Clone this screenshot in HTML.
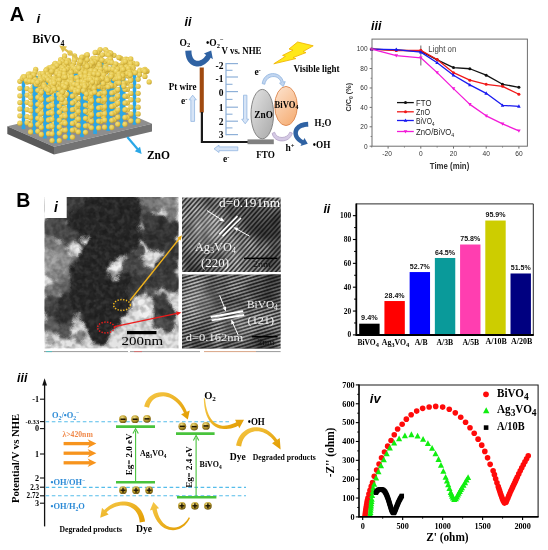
<!DOCTYPE html>
<html lang="en"><head><meta charset="utf-8"><title>Figure</title>
<style>html,body{margin:0;padding:0;background:#fff}svg{display:block}text{white-space:pre}</style></head>
<body>
<svg width="548" height="550" viewBox="0 0 548 550">
<defs>
<radialGradient id="ball" cx="0.38" cy="0.35" r="0.75"><stop offset="0" stop-color="#f3df7e"/><stop offset="0.55" stop-color="#e6c84e"/><stop offset="1" stop-color="#b8962a"/></radialGradient>
<symbol id="b" overflow="visible"><circle r="2.65" fill="url(#ball)"/></symbol>
<linearGradient id="gz" x1="0" y1="0" x2="1" y2="1"><stop offset="0" stop-color="#e4e4e4"/><stop offset="1" stop-color="#a8a8a8"/></linearGradient>
<linearGradient id="gb" x1="0" y1="0" x2="0.6" y2="1"><stop offset="0" stop-color="#fde4d0"/><stop offset="1" stop-color="#f6b27c"/></linearGradient>
<clipPath id="ctem"><rect x="44.5" y="197" width="134.1" height="151.4"/></clipPath>
<filter id="temd" x="-10%" y="-10%" width="120%" height="120%"><feGaussianBlur stdDeviation="1.6" result="b"/><feTurbulence type="fractalNoise" baseFrequency="0.09" numOctaves="2" seed="9" result="t"/><feDisplacementMap in="b" in2="t" scale="10" xChannelSelector="R" yChannelSelector="G"/></filter>
<filter id="grain" x="0" y="0" width="100%" height="100%"><feTurbulence type="fractalNoise" baseFrequency="0.17" numOctaves="2" seed="4" result="n"/><feColorMatrix in="n" type="matrix" values="0 0 0 0 0  0 0 0 0 0  0 0 0 0 0  2.2 2.2 0 0 -1.85" result="a"/><feFlood flood-color="#000"/><feComposite operator="in" in2="a"/></filter>
<filter id="grainw" x="0" y="0" width="100%" height="100%"><feTurbulence type="fractalNoise" baseFrequency="0.2" numOctaves="2" seed="17" result="n"/><feColorMatrix in="n" type="matrix" values="0 0 0 0 0  0 0 0 0 0  0 0 0 0 0  2.4 2.4 0 0 -2.1" result="a"/><feFlood flood-color="#fff"/><feComposite operator="in" in2="a"/></filter>
<filter id="bl5" x="-50%" y="-50%" width="200%" height="200%"><feGaussianBlur stdDeviation="5"/></filter>
<pattern id="h1" width="3.4" height="8" patternUnits="userSpaceOnUse" patternTransform="rotate(42)"><rect width="3.4" height="8" fill="#383838"/><rect width="1.7" height="8" fill="#b2b2b2"/></pattern>
<filter id="h1n" x="0" y="0" width="100%" height="100%"><feTurbulence type="fractalNoise" baseFrequency="0.045" numOctaves="2" seed="11" result="n"/><feColorMatrix in="n" type="matrix" values="0 0 0 0 0  0 0 0 0 0  0 0 0 0 0  1.6 1.6 0 0 -1.25" result="a"/><feFlood flood-color="#1c1c1c"/><feComposite operator="in" in2="a"/></filter>
<clipPath id="h1c"><rect x="182" y="197.6" width="98.6" height="74.4"/></clipPath>
<pattern id="h2" width="3.3" height="8" patternUnits="userSpaceOnUse" patternTransform="rotate(73)"><rect width="3.3" height="8" fill="#363636"/><rect width="1.65" height="8" fill="#b0b0b0"/></pattern>
<filter id="h2n" x="0" y="0" width="100%" height="100%"><feTurbulence type="fractalNoise" baseFrequency="0.045" numOctaves="2" seed="23" result="n"/><feColorMatrix in="n" type="matrix" values="0 0 0 0 0  0 0 0 0 0  0 0 0 0 0  1.6 1.6 0 0 -1.25" result="a"/><feFlood flood-color="#1c1c1c"/><feComposite operator="in" in2="a"/></filter>
<clipPath id="h2c"><rect x="182" y="274.6" width="98.6" height="73.8"/></clipPath>
<radialGradient id="car" cx="0.4" cy="0.32" r="0.75"><stop offset="0" stop-color="#f0e08a"/><stop offset="0.5" stop-color="#c0a030"/><stop offset="1" stop-color="#5e4a0a"/></radialGradient>
<symbol id="em" overflow="visible"><circle r="3.9" fill="url(#car)"/><rect x="-2.5" y="-0.7" width="5" height="1.5" fill="#1c1402"/></symbol>
<symbol id="hp" overflow="visible"><circle r="3.9" fill="url(#car)"/><rect x="-2.5" y="-0.7" width="5" height="1.4" fill="#1c1402"/><rect x="-0.7" y="-2.5" width="1.4" height="5" fill="#1c1402"/></symbol>
<linearGradient id="gold" x1="0" y1="0" x2="1" y2="1"><stop offset="0" stop-color="#f6c94a"/><stop offset="1" stop-color="#e29c00"/></linearGradient>
<clipPath id="cny"><rect x="359" y="384.9" width="179.1" height="132"/></clipPath>
</defs>
<rect width="548" height="550" fill="#fff"/>
<text x="9.7" y="21.2" font-family='"Liberation Sans", Arial, sans-serif' font-size="20.2" font-weight="bold">A</text>
<text x="36.4" y="22.8" font-family='"Liberation Sans", Arial, sans-serif' font-size="13.4" font-weight="bold" font-style="italic">i</text>
<text x="32.5" y="42.6" font-family='"Liberation Serif", "Times New Roman", serif' font-size="11.5" font-weight="bold">BiVO<tspan baseline-shift="-3.22" font-size="7.82">4</tspan></text>
<polygon points="7.3,126.3 54,146.8 152,123.8 105.3,103.3" fill="#8e8e8e" />
<polygon points="7.3,126.3 54,146.8 54,154.4 7.3,133.9" fill="#5a5a5a" />
<polygon points="54,146.8 152,123.8 152,131.4 54,154.4" fill="#737373" />
<rect x="100.47" y="60.62" width="3.6" height="50" fill="#2aa7e6"/><use href="#b" x="98.67" y="106.87"/><use href="#b" x="105.87" y="107.23"/><use href="#b" x="98.67" y="99.87"/><use href="#b" x="105.87" y="99.92"/><use href="#b" x="98.67" y="93.1"/><use href="#b" x="105.87" y="92.69"/><use href="#b" x="98.67" y="86.12"/><use href="#b" x="105.87" y="86.24"/><use href="#b" x="98.67" y="79.5"/><use href="#b" x="105.87" y="78.8"/><use href="#b" x="98.67" y="72.11"/><use href="#b" x="105.87" y="71.9"/><use href="#b" x="98.67" y="65.72"/><use href="#b" x="105.87" y="65.6"/>
<rect x="87.34" y="63.7" width="3.6" height="50" fill="#2aa7e6"/><use href="#b" x="85.54" y="112.01"/><use href="#b" x="92.74" y="112"/><use href="#b" x="85.54" y="104.79"/><use href="#b" x="92.74" y="104.75"/><use href="#b" x="85.54" y="97.39"/><use href="#b" x="92.74" y="97.25"/><use href="#b" x="85.54" y="90.86"/><use href="#b" x="92.74" y="90.39"/><use href="#b" x="85.54" y="83.62"/><use href="#b" x="92.74" y="83.67"/><use href="#b" x="85.54" y="76.56"/><use href="#b" x="92.74" y="77"/><use href="#b" x="85.54" y="70.07"/><use href="#b" x="92.74" y="70.47"/>
<rect x="111.21" y="65.33" width="3.6" height="50" fill="#2aa7e6"/><use href="#b" x="109.41" y="111.4"/><use href="#b" x="116.61" y="111.26"/><use href="#b" x="109.41" y="104.52"/><use href="#b" x="116.61" y="104.31"/><use href="#b" x="109.41" y="97.23"/><use href="#b" x="116.61" y="97.95"/><use href="#b" x="109.41" y="91.05"/><use href="#b" x="116.61" y="90.9"/><use href="#b" x="109.41" y="83.86"/><use href="#b" x="116.61" y="83.47"/><use href="#b" x="109.41" y="76.49"/><use href="#b" x="116.61" y="76.55"/><use href="#b" x="109.41" y="69.43"/><use href="#b" x="116.61" y="70.12"/>
<rect x="74.2" y="66.78" width="3.6" height="50" fill="#2aa7e6"/><use href="#b" x="72.41" y="113.53"/><use href="#b" x="79.6" y="113.07"/><use href="#b" x="72.41" y="106.74"/><use href="#b" x="79.6" y="106.63"/><use href="#b" x="72.41" y="98.88"/><use href="#b" x="79.6" y="99.09"/><use href="#b" x="72.41" y="92.89"/><use href="#b" x="79.6" y="92.45"/><use href="#b" x="72.41" y="86.06"/><use href="#b" x="79.6" y="85.48"/><use href="#b" x="72.41" y="78.25"/><use href="#b" x="79.6" y="78.81"/><use href="#b" x="72.41" y="72.06"/><use href="#b" x="79.6" y="71.55"/>
<rect x="98.08" y="68.41" width="3.6" height="50" fill="#2aa7e6"/><use href="#b" x="96.28" y="115.9"/><use href="#b" x="103.48" y="116.53"/><use href="#b" x="96.28" y="109.42"/><use href="#b" x="103.48" y="108.78"/><use href="#b" x="96.28" y="102.01"/><use href="#b" x="103.48" y="101.87"/><use href="#b" x="96.28" y="94.93"/><use href="#b" x="103.48" y="95.66"/><use href="#b" x="96.28" y="88.14"/><use href="#b" x="103.48" y="88.53"/><use href="#b" x="96.28" y="81.51"/><use href="#b" x="103.48" y="81.26"/><use href="#b" x="96.28" y="74.9"/><use href="#b" x="103.48" y="74.3"/>
<rect x="61.07" y="69.86" width="3.6" height="50" fill="#2aa7e6"/><use href="#b" x="59.27" y="114.91"/><use href="#b" x="66.47" y="115.21"/><use href="#b" x="59.27" y="108.1"/><use href="#b" x="66.47" y="108.16"/><use href="#b" x="59.27" y="101.96"/><use href="#b" x="66.47" y="101.79"/><use href="#b" x="59.27" y="94.39"/><use href="#b" x="66.47" y="94.97"/><use href="#b" x="59.27" y="87.4"/><use href="#b" x="66.47" y="87.58"/><use href="#b" x="59.27" y="81.14"/><use href="#b" x="66.47" y="80.93"/><use href="#b" x="59.27" y="73.49"/><use href="#b" x="66.47" y="74.38"/>
<rect x="121.95" y="70.05" width="3.6" height="50" fill="#2aa7e6"/><use href="#b" x="120.15" y="116.95"/><use href="#b" x="127.35" y="117.47"/><use href="#b" x="120.15" y="110.12"/><use href="#b" x="127.35" y="110.09"/><use href="#b" x="120.15" y="102.97"/><use href="#b" x="127.35" y="102.99"/><use href="#b" x="120.15" y="96.58"/><use href="#b" x="127.35" y="96.24"/><use href="#b" x="120.15" y="89.7"/><use href="#b" x="127.35" y="89.47"/><use href="#b" x="120.15" y="82.65"/><use href="#b" x="127.35" y="83.15"/><use href="#b" x="120.15" y="75.78"/><use href="#b" x="127.35" y="75.87"/>
<rect x="84.95" y="71.5" width="3.6" height="50" fill="#2aa7e6"/><use href="#b" x="83.15" y="115.71"/><use href="#b" x="90.35" y="115.69"/><use href="#b" x="83.15" y="109.54"/><use href="#b" x="90.35" y="109.45"/><use href="#b" x="83.15" y="101.98"/><use href="#b" x="90.35" y="101.92"/><use href="#b" x="83.15" y="95.57"/><use href="#b" x="90.35" y="95.77"/><use href="#b" x="83.15" y="88.13"/><use href="#b" x="90.35" y="88.88"/><use href="#b" x="83.15" y="81.91"/><use href="#b" x="90.35" y="81.63"/><use href="#b" x="83.15" y="74.55"/><use href="#b" x="90.35" y="74.23"/>
<rect x="47.94" y="72.95" width="3.6" height="50" fill="#2aa7e6"/><use href="#b" x="46.14" y="121.25"/><use href="#b" x="53.34" y="120.53"/><use href="#b" x="46.14" y="114.1"/><use href="#b" x="53.34" y="113.65"/><use href="#b" x="46.14" y="107.31"/><use href="#b" x="53.34" y="107.09"/><use href="#b" x="46.14" y="99.88"/><use href="#b" x="53.34" y="99.77"/><use href="#b" x="46.14" y="93.41"/><use href="#b" x="53.34" y="92.76"/><use href="#b" x="46.14" y="86.02"/><use href="#b" x="53.34" y="86.35"/><use href="#b" x="46.14" y="79.74"/><use href="#b" x="53.34" y="79.51"/>
<rect x="108.82" y="73.13" width="3.6" height="50" fill="#2aa7e6"/><use href="#b" x="107.02" y="120.43"/><use href="#b" x="114.22" y="119.71"/><use href="#b" x="107.02" y="112.63"/><use href="#b" x="114.22" y="112.88"/><use href="#b" x="107.02" y="106.15"/><use href="#b" x="114.22" y="105.77"/><use href="#b" x="107.02" y="98.99"/><use href="#b" x="114.22" y="99.18"/><use href="#b" x="107.02" y="92.48"/><use href="#b" x="114.22" y="92.04"/><use href="#b" x="107.02" y="85.37"/><use href="#b" x="114.22" y="85.9"/><use href="#b" x="107.02" y="79.09"/><use href="#b" x="114.22" y="78.77"/>
<rect x="71.81" y="74.58" width="3.6" height="50" fill="#2aa7e6"/><use href="#b" x="70.01" y="119.9"/><use href="#b" x="77.21" y="119.45"/><use href="#b" x="70.01" y="112.45"/><use href="#b" x="77.21" y="112.43"/><use href="#b" x="70.01" y="106.42"/><use href="#b" x="77.21" y="106.22"/><use href="#b" x="70.01" y="99.58"/><use href="#b" x="77.21" y="98.64"/><use href="#b" x="70.01" y="92.35"/><use href="#b" x="77.21" y="92.2"/><use href="#b" x="70.01" y="85.54"/><use href="#b" x="77.21" y="85.13"/><use href="#b" x="70.01" y="78.91"/><use href="#b" x="77.21" y="77.99"/>
<rect x="132.69" y="74.76" width="3.6" height="50" fill="#2aa7e6"/><use href="#b" x="130.89" y="120.82"/><use href="#b" x="138.09" y="120.98"/><use href="#b" x="130.89" y="113.92"/><use href="#b" x="138.09" y="113.88"/><use href="#b" x="130.89" y="107.07"/><use href="#b" x="138.09" y="107.19"/><use href="#b" x="130.89" y="99.73"/><use href="#b" x="138.09" y="100.06"/><use href="#b" x="130.89" y="93.38"/><use href="#b" x="138.09" y="93.35"/><use href="#b" x="130.89" y="86"/><use href="#b" x="138.09" y="86.37"/><use href="#b" x="130.89" y="79.54"/><use href="#b" x="138.09" y="79.25"/>
<rect x="34.81" y="76.03" width="3.6" height="50" fill="#2aa7e6"/><use href="#b" x="33.01" y="121.41"/><use href="#b" x="40.21" y="121.61"/><use href="#b" x="33.01" y="114.74"/><use href="#b" x="40.21" y="114.21"/><use href="#b" x="33.01" y="107.87"/><use href="#b" x="40.21" y="108.22"/><use href="#b" x="33.01" y="101.21"/><use href="#b" x="40.21" y="101.06"/><use href="#b" x="33.01" y="93.82"/><use href="#b" x="40.21" y="94.16"/><use href="#b" x="33.01" y="87.11"/><use href="#b" x="40.21" y="86.97"/><use href="#b" x="33.01" y="80.47"/><use href="#b" x="40.21" y="79.71"/>
<rect x="95.69" y="76.21" width="3.6" height="50" fill="#2aa7e6"/><use href="#b" x="93.89" y="120.74"/><use href="#b" x="101.09" y="121.31"/><use href="#b" x="93.89" y="114.29"/><use href="#b" x="101.09" y="114.04"/><use href="#b" x="93.89" y="107.61"/><use href="#b" x="101.09" y="107.41"/><use href="#b" x="93.89" y="100.63"/><use href="#b" x="101.09" y="100.93"/><use href="#b" x="93.89" y="93.37"/><use href="#b" x="101.09" y="93.12"/><use href="#b" x="93.89" y="86.51"/><use href="#b" x="101.09" y="86.89"/><use href="#b" x="93.89" y="79.51"/><use href="#b" x="101.09" y="79.48"/>
<rect x="58.68" y="77.66" width="3.6" height="50" fill="#2aa7e6"/><use href="#b" x="56.88" y="122.2"/><use href="#b" x="64.08" y="121.98"/><use href="#b" x="56.88" y="115.53"/><use href="#b" x="64.08" y="114.97"/><use href="#b" x="56.88" y="108.4"/><use href="#b" x="64.08" y="107.94"/><use href="#b" x="56.88" y="101.27"/><use href="#b" x="64.08" y="101.64"/><use href="#b" x="56.88" y="94.85"/><use href="#b" x="64.08" y="94.82"/><use href="#b" x="56.88" y="87.42"/><use href="#b" x="64.08" y="87.62"/><use href="#b" x="56.88" y="80.45"/><use href="#b" x="64.08" y="80.27"/>
<rect x="119.56" y="77.84" width="3.6" height="50" fill="#2aa7e6"/><use href="#b" x="117.76" y="124.2"/><use href="#b" x="124.96" y="124.21"/><use href="#b" x="117.76" y="117.17"/><use href="#b" x="124.96" y="117.41"/><use href="#b" x="117.76" y="109.84"/><use href="#b" x="124.96" y="109.73"/><use href="#b" x="117.76" y="103.11"/><use href="#b" x="124.96" y="102.93"/><use href="#b" x="117.76" y="95.97"/><use href="#b" x="124.96" y="96.17"/><use href="#b" x="117.76" y="89.48"/><use href="#b" x="124.96" y="89.35"/><use href="#b" x="117.76" y="82.27"/><use href="#b" x="124.96" y="82.8"/>
<rect x="21.68" y="79.11" width="3.6" height="50" fill="#2aa7e6"/><use href="#b" x="19.88" y="123.13"/><use href="#b" x="27.08" y="122.76"/><use href="#b" x="19.88" y="115.81"/><use href="#b" x="27.08" y="116.65"/><use href="#b" x="19.88" y="108.92"/><use href="#b" x="27.08" y="109.59"/><use href="#b" x="19.88" y="102.55"/><use href="#b" x="27.08" y="102.29"/><use href="#b" x="19.88" y="95.87"/><use href="#b" x="27.08" y="95.1"/><use href="#b" x="19.88" y="88.32"/><use href="#b" x="27.08" y="88.64"/><use href="#b" x="19.88" y="81.31"/><use href="#b" x="27.08" y="82.11"/>
<rect x="82.56" y="79.29" width="3.6" height="50" fill="#2aa7e6"/><use href="#b" x="80.76" y="125.99"/><use href="#b" x="87.96" y="125.89"/><use href="#b" x="80.76" y="119.57"/><use href="#b" x="87.96" y="119.39"/><use href="#b" x="80.76" y="112.67"/><use href="#b" x="87.96" y="112.7"/><use href="#b" x="80.76" y="105.95"/><use href="#b" x="87.96" y="106.1"/><use href="#b" x="80.76" y="98.93"/><use href="#b" x="87.96" y="98.44"/><use href="#b" x="80.76" y="91.82"/><use href="#b" x="87.96" y="91.52"/><use href="#b" x="80.76" y="84.46"/><use href="#b" x="87.96" y="84.92"/>
<rect x="45.55" y="80.74" width="3.6" height="50" fill="#2aa7e6"/><use href="#b" x="43.75" y="125.57"/><use href="#b" x="50.95" y="125.66"/><use href="#b" x="43.75" y="118.83"/><use href="#b" x="50.95" y="119.18"/><use href="#b" x="43.75" y="112.11"/><use href="#b" x="50.95" y="112.2"/><use href="#b" x="43.75" y="105.44"/><use href="#b" x="50.95" y="105.08"/><use href="#b" x="43.75" y="98.58"/><use href="#b" x="50.95" y="98.69"/><use href="#b" x="43.75" y="90.97"/><use href="#b" x="50.95" y="91.82"/><use href="#b" x="43.75" y="84.71"/><use href="#b" x="50.95" y="84.12"/>
<rect x="106.43" y="80.93" width="3.6" height="50" fill="#2aa7e6"/><use href="#b" x="104.63" y="127.24"/><use href="#b" x="111.83" y="127.52"/><use href="#b" x="104.63" y="120.09"/><use href="#b" x="111.83" y="120.28"/><use href="#b" x="104.63" y="113.69"/><use href="#b" x="111.83" y="113.61"/><use href="#b" x="104.63" y="106.86"/><use href="#b" x="111.83" y="106.38"/><use href="#b" x="104.63" y="99.66"/><use href="#b" x="111.83" y="99.22"/><use href="#b" x="104.63" y="92.83"/><use href="#b" x="111.83" y="92.93"/><use href="#b" x="104.63" y="85.85"/><use href="#b" x="111.83" y="85.93"/>
<rect x="69.42" y="82.38" width="3.6" height="50" fill="#2aa7e6"/><use href="#b" x="67.62" y="129.92"/><use href="#b" x="74.82" y="130"/><use href="#b" x="67.62" y="123.1"/><use href="#b" x="74.82" y="122.66"/><use href="#b" x="67.62" y="116.01"/><use href="#b" x="74.82" y="115.54"/><use href="#b" x="67.62" y="109.23"/><use href="#b" x="74.82" y="109.18"/><use href="#b" x="67.62" y="101.77"/><use href="#b" x="74.82" y="101.51"/><use href="#b" x="67.62" y="94.96"/><use href="#b" x="74.82" y="95.07"/><use href="#b" x="67.62" y="88.39"/><use href="#b" x="74.82" y="88.11"/>
<rect x="32.42" y="83.82" width="3.6" height="50" fill="#2aa7e6"/><use href="#b" x="30.62" y="132.02"/><use href="#b" x="37.82" y="131.28"/><use href="#b" x="30.62" y="125.11"/><use href="#b" x="37.82" y="124.48"/><use href="#b" x="30.62" y="117.75"/><use href="#b" x="37.82" y="118.2"/><use href="#b" x="30.62" y="110.65"/><use href="#b" x="37.82" y="110.66"/><use href="#b" x="30.62" y="104.13"/><use href="#b" x="37.82" y="104.33"/><use href="#b" x="30.62" y="97.55"/><use href="#b" x="37.82" y="97.4"/><use href="#b" x="30.62" y="90.76"/><use href="#b" x="37.82" y="90.3"/>
<rect x="93.3" y="84.01" width="3.6" height="50" fill="#2aa7e6"/><use href="#b" x="91.5" y="127.8"/><use href="#b" x="98.7" y="127.93"/><use href="#b" x="91.5" y="121.34"/><use href="#b" x="98.7" y="121.1"/><use href="#b" x="91.5" y="114.64"/><use href="#b" x="98.7" y="114.55"/><use href="#b" x="91.5" y="107.54"/><use href="#b" x="98.7" y="107.86"/><use href="#b" x="91.5" y="100.67"/><use href="#b" x="98.7" y="100.42"/><use href="#b" x="91.5" y="93.59"/><use href="#b" x="98.7" y="94.06"/><use href="#b" x="91.5" y="87.21"/><use href="#b" x="98.7" y="86.52"/>
<rect x="56.29" y="85.46" width="3.6" height="50" fill="#2aa7e6"/><use href="#b" x="54.49" y="130.52"/><use href="#b" x="61.69" y="130.08"/><use href="#b" x="54.49" y="123.23"/><use href="#b" x="61.69" y="122.86"/><use href="#b" x="54.49" y="116.29"/><use href="#b" x="61.69" y="116.26"/><use href="#b" x="54.49" y="109.46"/><use href="#b" x="61.69" y="108.88"/><use href="#b" x="54.49" y="102.92"/><use href="#b" x="61.69" y="102.47"/><use href="#b" x="54.49" y="95.46"/><use href="#b" x="61.69" y="95.86"/><use href="#b" x="54.49" y="88.72"/><use href="#b" x="61.69" y="88.65"/>
<rect x="80.16" y="87.09" width="3.6" height="50" fill="#2aa7e6"/><use href="#b" x="78.36" y="131.89"/><use href="#b" x="85.56" y="132.37"/><use href="#b" x="78.36" y="125.34"/><use href="#b" x="85.56" y="125.88"/><use href="#b" x="78.36" y="118.95"/><use href="#b" x="85.56" y="118.3"/><use href="#b" x="78.36" y="111.6"/><use href="#b" x="85.56" y="111.25"/><use href="#b" x="78.36" y="104.66"/><use href="#b" x="85.56" y="105.04"/><use href="#b" x="78.36" y="98.23"/><use href="#b" x="85.56" y="97.8"/><use href="#b" x="78.36" y="90.74"/><use href="#b" x="85.56" y="90.62"/>
<rect x="43.16" y="88.54" width="3.6" height="50" fill="#2aa7e6"/><use href="#b" x="41.36" y="134.49"/><use href="#b" x="48.56" y="133.7"/><use href="#b" x="41.36" y="127.45"/><use href="#b" x="48.56" y="126.69"/><use href="#b" x="41.36" y="119.96"/><use href="#b" x="48.56" y="120"/><use href="#b" x="41.36" y="113.56"/><use href="#b" x="48.56" y="113.19"/><use href="#b" x="41.36" y="106.32"/><use href="#b" x="48.56" y="106.59"/><use href="#b" x="41.36" y="99.17"/><use href="#b" x="48.56" y="99.8"/><use href="#b" x="41.36" y="92.29"/><use href="#b" x="48.56" y="92.68"/>
<rect x="67.03" y="90.17" width="3.6" height="50" fill="#2aa7e6"/><use href="#b" x="65.23" y="136.87"/><use href="#b" x="72.43" y="137.2"/><use href="#b" x="65.23" y="130.21"/><use href="#b" x="72.43" y="130.15"/><use href="#b" x="65.23" y="123.28"/><use href="#b" x="72.43" y="123.4"/><use href="#b" x="65.23" y="116.13"/><use href="#b" x="72.43" y="116.18"/><use href="#b" x="65.23" y="109.7"/><use href="#b" x="72.43" y="109.71"/><use href="#b" x="65.23" y="102.7"/><use href="#b" x="72.43" y="103.02"/><use href="#b" x="65.23" y="95.88"/><use href="#b" x="72.43" y="96.13"/>
<rect x="53.9" y="93.25" width="3.6" height="50" fill="#2aa7e6"/><use href="#b" x="52.1" y="140.57"/><use href="#b" x="59.3" y="140.63"/><use href="#b" x="52.1" y="133.83"/><use href="#b" x="59.3" y="133.24"/><use href="#b" x="52.1" y="126.34"/><use href="#b" x="59.3" y="126.95"/><use href="#b" x="52.1" y="119.34"/><use href="#b" x="59.3" y="120.12"/><use href="#b" x="52.1" y="113.11"/><use href="#b" x="59.3" y="112.36"/><use href="#b" x="52.1" y="105.56"/><use href="#b" x="59.3" y="106.05"/><use href="#b" x="52.1" y="98.68"/><use href="#b" x="59.3" y="98.52"/>
<use href="#b" x="109.66" y="52.68"/><use href="#b" x="105.52" y="49.6"/><use href="#b" x="110.32" y="54.78"/><use href="#b" x="107.17" y="51.88"/><use href="#b" x="100.27" y="56.39"/><use href="#b" x="98.23" y="52.08"/><use href="#b" x="100.18" y="49.58"/><use href="#b" x="94.78" y="58.59"/><use href="#b" x="97.47" y="52.58"/><use href="#b" x="106.14" y="53.88"/><use href="#b" x="102.27" y="54.79"/><use href="#b" x="104.83" y="61.35"/><use href="#b" x="92.66" y="58.75"/><use href="#b" x="95.15" y="52.51"/><use href="#b" x="114.02" y="55.29"/><use href="#b" x="110.16" y="60.97"/><use href="#b" x="110.66" y="54.97"/><use href="#b" x="120.57" y="58.27"/><use href="#b" x="107.94" y="60.33"/><use href="#b" x="83.22" y="62.05"/><use href="#b" x="110.76" y="53.14"/><use href="#b" x="86.87" y="56.07"/><use href="#b" x="108.58" y="55.03"/><use href="#b" x="81.69" y="58.26"/><use href="#b" x="92.99" y="60.28"/><use href="#b" x="110.72" y="60.72"/><use href="#b" x="74.58" y="55.94"/><use href="#b" x="74.65" y="58.18"/><use href="#b" x="82.03" y="58.31"/><use href="#b" x="70.01" y="52.88"/><use href="#b" x="118.88" y="57.44"/><use href="#b" x="123.05" y="63.63"/><use href="#b" x="84.69" y="58.92"/><use href="#b" x="127.53" y="59.59"/><use href="#b" x="100.59" y="60.32"/><use href="#b" x="68.47" y="61.51"/><use href="#b" x="126.23" y="59.26"/><use href="#b" x="91.66" y="60.69"/><use href="#b" x="110.35" y="58.96"/><use href="#b" x="86.14" y="55.3"/><use href="#b" x="94.02" y="58.13"/><use href="#b" x="124.85" y="59.28"/><use href="#b" x="118.27" y="65.38"/><use href="#b" x="124.12" y="61.6"/><use href="#b" x="128.2" y="59.98"/><use href="#b" x="64.58" y="56.01"/><use href="#b" x="130.75" y="58.99"/><use href="#b" x="100.11" y="65.34"/><use href="#b" x="80.52" y="60.6"/><use href="#b" x="87.23" y="54.74"/><use href="#b" x="64.02" y="59.73"/><use href="#b" x="68.74" y="60.35"/><use href="#b" x="85.78" y="63.57"/><use href="#b" x="97.1" y="62.03"/><use href="#b" x="62.04" y="61.56"/><use href="#b" x="126.09" y="66.01"/><use href="#b" x="93.43" y="65.74"/><use href="#b" x="95.5" y="59.23"/><use href="#b" x="110.34" y="62.75"/><use href="#b" x="99.15" y="63.78"/><use href="#b" x="93.56" y="63.83"/><use href="#b" x="127.79" y="63.95"/><use href="#b" x="97.21" y="58.93"/><use href="#b" x="109.74" y="62.24"/><use href="#b" x="87.15" y="59.74"/><use href="#b" x="82.64" y="57.47"/><use href="#b" x="101.94" y="60.18"/><use href="#b" x="111.88" y="62.6"/><use href="#b" x="81.71" y="57.12"/><use href="#b" x="84.19" y="65.74"/><use href="#b" x="127.75" y="62.52"/><use href="#b" x="60.63" y="59.71"/><use href="#b" x="123.2" y="62.57"/><use href="#b" x="67.29" y="60.39"/><use href="#b" x="125.27" y="61.55"/><use href="#b" x="81.09" y="62.03"/><use href="#b" x="130.62" y="66.3"/><use href="#b" x="91" y="63.31"/><use href="#b" x="127.59" y="68.07"/><use href="#b" x="115.75" y="63.9"/><use href="#b" x="94.73" y="62.07"/><use href="#b" x="78.82" y="65.29"/><use href="#b" x="52.73" y="66.36"/><use href="#b" x="54.54" y="64.18"/><use href="#b" x="70.14" y="65.21"/><use href="#b" x="56.19" y="65.93"/><use href="#b" x="79.53" y="62.77"/><use href="#b" x="62.24" y="61.49"/><use href="#b" x="83.48" y="63.63"/><use href="#b" x="48.92" y="67.92"/><use href="#b" x="132.96" y="63.25"/><use href="#b" x="130.6" y="63.6"/><use href="#b" x="68.77" y="65.06"/><use href="#b" x="136.9" y="63.96"/><use href="#b" x="89.4" y="70.02"/><use href="#b" x="98.68" y="68.93"/><use href="#b" x="104.33" y="70.22"/><use href="#b" x="105.13" y="67.46"/><use href="#b" x="132.76" y="67.99"/><use href="#b" x="99.31" y="65.58"/><use href="#b" x="68.27" y="61.77"/><use href="#b" x="92.14" y="62.88"/><use href="#b" x="46.3" y="70.1"/><use href="#b" x="74.65" y="60"/><use href="#b" x="113.43" y="69.96"/><use href="#b" x="132.7" y="67.59"/><use href="#b" x="58.39" y="65.8"/><use href="#b" x="140.04" y="70.24"/><use href="#b" x="55.21" y="63.51"/><use href="#b" x="139.5" y="71.35"/><use href="#b" x="113.95" y="67.23"/><use href="#b" x="50.34" y="67.84"/><use href="#b" x="46.58" y="69.51"/><use href="#b" x="126.32" y="66.9"/><use href="#b" x="73.66" y="63.32"/><use href="#b" x="68.27" y="67.02"/><use href="#b" x="79.97" y="62.98"/><use href="#b" x="85.37" y="71.48"/><use href="#b" x="89.89" y="65.88"/><use href="#b" x="71.8" y="69.43"/><use href="#b" x="57.65" y="66.63"/><use href="#b" x="46.79" y="72.5"/><use href="#b" x="80.62" y="61.61"/><use href="#b" x="87.08" y="65.93"/><use href="#b" x="68.93" y="63.11"/><use href="#b" x="63.92" y="65.26"/><use href="#b" x="130.6" y="66.68"/><use href="#b" x="91.9" y="71.72"/><use href="#b" x="64.26" y="66.51"/><use href="#b" x="55.05" y="66.86"/><use href="#b" x="56.18" y="71.68"/><use href="#b" x="66.72" y="62.6"/><use href="#b" x="118.41" y="72.14"/><use href="#b" x="59.59" y="62.89"/><use href="#b" x="132.81" y="67.68"/><use href="#b" x="112.01" y="72.67"/><use href="#b" x="107.23" y="70.45"/><use href="#b" x="45.92" y="70.35"/><use href="#b" x="111.34" y="70.75"/><use href="#b" x="35.65" y="69.42"/><use href="#b" x="132.69" y="68.89"/><use href="#b" x="97.41" y="68.93"/><use href="#b" x="76.05" y="70.3"/><use href="#b" x="60.1" y="69.31"/><use href="#b" x="123.86" y="69.06"/><use href="#b" x="56.81" y="65.56"/><use href="#b" x="72.32" y="66.01"/><use href="#b" x="34.95" y="72.22"/><use href="#b" x="130.34" y="71.35"/><use href="#b" x="115.8" y="72.23"/><use href="#b" x="61.61" y="67.43"/><use href="#b" x="102.51" y="72.29"/><use href="#b" x="116.23" y="74.27"/><use href="#b" x="52.39" y="71.64"/><use href="#b" x="116.9" y="69.58"/><use href="#b" x="77.44" y="69.04"/><use href="#b" x="121.54" y="67.49"/><use href="#b" x="110.95" y="71.77"/><use href="#b" x="87.07" y="66.7"/><use href="#b" x="73.24" y="67.68"/><use href="#b" x="107.92" y="69.39"/><use href="#b" x="122.2" y="69.16"/><use href="#b" x="84.62" y="73.13"/><use href="#b" x="125.85" y="73.64"/><use href="#b" x="39.92" y="73.75"/><use href="#b" x="100.58" y="69.31"/><use href="#b" x="68.07" y="73.51"/><use href="#b" x="57.35" y="72.85"/><use href="#b" x="120.98" y="70.95"/><use href="#b" x="74.97" y="68.6"/><use href="#b" x="76.37" y="71.21"/><use href="#b" x="99.74" y="71.78"/><use href="#b" x="144.97" y="69.45"/><use href="#b" x="117.43" y="69.06"/><use href="#b" x="129.82" y="68.8"/><use href="#b" x="81.8" y="69.79"/><use href="#b" x="146.97" y="71.2"/><use href="#b" x="125.24" y="71.95"/><use href="#b" x="106.82" y="68.98"/><use href="#b" x="65.81" y="72.85"/><use href="#b" x="89.41" y="72.15"/><use href="#b" x="63.31" y="69.37"/><use href="#b" x="68.45" y="73.09"/><use href="#b" x="52.2" y="67.88"/><use href="#b" x="77.38" y="70.61"/><use href="#b" x="128.35" y="73.05"/><use href="#b" x="30.12" y="73.82"/><use href="#b" x="56.82" y="74.04"/><use href="#b" x="90.94" y="74.3"/><use href="#b" x="48.1" y="74.52"/><use href="#b" x="128.15" y="68.43"/><use href="#b" x="81.88" y="72.38"/><use href="#b" x="53.72" y="68.17"/><use href="#b" x="131.54" y="72.44"/><use href="#b" x="78.81" y="67.96"/><use href="#b" x="66.9" y="69.14"/><use href="#b" x="62.71" y="68.06"/><use href="#b" x="27.56" y="75.98"/><use href="#b" x="95.28" y="70.91"/><use href="#b" x="123.69" y="71.49"/><use href="#b" x="91.5" y="71.73"/><use href="#b" x="40.29" y="76.2"/><use href="#b" x="129.32" y="71.83"/><use href="#b" x="52.49" y="71.99"/><use href="#b" x="59.04" y="75.95"/><use href="#b" x="109.78" y="68.8"/><use href="#b" x="33.8" y="75.78"/><use href="#b" x="112.89" y="69.23"/><use href="#b" x="100.73" y="73.29"/><use href="#b" x="128.89" y="75.92"/><use href="#b" x="49.41" y="74.86"/><use href="#b" x="87.46" y="73.17"/><use href="#b" x="28.42" y="74.15"/><use href="#b" x="62.06" y="71.5"/><use href="#b" x="58.64" y="73.52"/><use href="#b" x="47.23" y="74.17"/><use href="#b" x="139.48" y="74.78"/><use href="#b" x="42.89" y="73.58"/><use href="#b" x="61.11" y="70.73"/><use href="#b" x="65.56" y="73.9"/><use href="#b" x="145.9" y="71.57"/><use href="#b" x="111.78" y="74.67"/><use href="#b" x="23.34" y="76.63"/><use href="#b" x="135.16" y="72.76"/><use href="#b" x="58.31" y="76.38"/><use href="#b" x="69.09" y="75.45"/><use href="#b" x="91.04" y="70.75"/><use href="#b" x="144.9" y="76.41"/><use href="#b" x="117.36" y="76.03"/><use href="#b" x="143.41" y="70.17"/><use href="#b" x="90.15" y="74.2"/><use href="#b" x="123.1" y="69.49"/><use href="#b" x="59.99" y="72.41"/><use href="#b" x="101.1" y="77.34"/><use href="#b" x="130.48" y="74.51"/><use href="#b" x="51.65" y="71.32"/><use href="#b" x="144.8" y="71.32"/><use href="#b" x="95.13" y="71.15"/><use href="#b" x="68.85" y="77.25"/><use href="#b" x="49.05" y="76.62"/><use href="#b" x="64.5" y="70.3"/><use href="#b" x="116.19" y="71.33"/><use href="#b" x="85.51" y="72.76"/><use href="#b" x="28.16" y="77.46"/><use href="#b" x="122.26" y="76.46"/><use href="#b" x="127.53" y="73.3"/><use href="#b" x="22.37" y="78.43"/><use href="#b" x="96.5" y="76.14"/><use href="#b" x="103.73" y="75.14"/><use href="#b" x="57.35" y="71.26"/><use href="#b" x="63.41" y="74.27"/><use href="#b" x="103.24" y="77.33"/><use href="#b" x="40.5" y="78.99"/><use href="#b" x="33.64" y="75"/><use href="#b" x="56.88" y="73.29"/><use href="#b" x="57.31" y="78.63"/><use href="#b" x="24.2" y="77.04"/><use href="#b" x="71.08" y="72.49"/><use href="#b" x="85.03" y="76.41"/><use href="#b" x="71.72" y="76.56"/><use href="#b" x="96.53" y="73.99"/><use href="#b" x="40.02" y="78.51"/><use href="#b" x="90.22" y="74.54"/><use href="#b" x="56.09" y="78.75"/><use href="#b" x="85.76" y="75.98"/><use href="#b" x="44.35" y="76.56"/><use href="#b" x="120.01" y="78.29"/><use href="#b" x="97.89" y="73.88"/><use href="#b" x="51.16" y="79.36"/><use href="#b" x="130.54" y="80.45"/><use href="#b" x="59.83" y="73.14"/><use href="#b" x="76.31" y="77.87"/><use href="#b" x="98.46" y="76.34"/><use href="#b" x="118.8" y="73.83"/><use href="#b" x="80.37" y="73.77"/><use href="#b" x="91.16" y="75.88"/><use href="#b" x="35.26" y="79.53"/><use href="#b" x="122.62" y="78.24"/><use href="#b" x="26.35" y="80.55"/><use href="#b" x="129.78" y="73.77"/><use href="#b" x="108.75" y="79.4"/><use href="#b" x="130.25" y="74.91"/><use href="#b" x="30.47" y="77.06"/><use href="#b" x="106.03" y="78.67"/><use href="#b" x="87.49" y="78.81"/><use href="#b" x="149.16" y="81.94"/><use href="#b" x="92.18" y="75.11"/><use href="#b" x="81.11" y="76.45"/><use href="#b" x="30.43" y="81.57"/><use href="#b" x="46.21" y="77.65"/><use href="#b" x="97.87" y="75.3"/><use href="#b" x="30.91" y="81.63"/><use href="#b" x="76.15" y="79.17"/><use href="#b" x="84.08" y="78.56"/><use href="#b" x="64.18" y="73.87"/><use href="#b" x="39.03" y="81.15"/><use href="#b" x="86.26" y="77.24"/><use href="#b" x="94" y="73.96"/><use href="#b" x="104.82" y="80.52"/><use href="#b" x="29.53" y="81.26"/><use href="#b" x="63.36" y="77.56"/><use href="#b" x="55.02" y="81.71"/><use href="#b" x="59.38" y="75.44"/><use href="#b" x="89.57" y="75.41"/><use href="#b" x="63.71" y="77.48"/><use href="#b" x="43.15" y="79.66"/><use href="#b" x="98.42" y="74.32"/><use href="#b" x="96.04" y="80.57"/><use href="#b" x="122.46" y="75.63"/><use href="#b" x="48.7" y="80.68"/><use href="#b" x="118.71" y="76.17"/><use href="#b" x="48.2" y="79.95"/><use href="#b" x="117.32" y="78.47"/><use href="#b" x="41.84" y="82.54"/><use href="#b" x="107.57" y="80.86"/><use href="#b" x="108.54" y="83.06"/><use href="#b" x="86.11" y="81.83"/><use href="#b" x="76.68" y="78.11"/><use href="#b" x="33.24" y="81.73"/><use href="#b" x="85.39" y="77.02"/><use href="#b" x="119.39" y="77.84"/><use href="#b" x="106.76" y="79.5"/><use href="#b" x="102.04" y="78.48"/><use href="#b" x="93.6" y="79.39"/><use href="#b" x="87.31" y="78.11"/><use href="#b" x="39.1" y="83.03"/><use href="#b" x="40.89" y="80.36"/><use href="#b" x="85.4" y="76.84"/><use href="#b" x="99.04" y="80.9"/><use href="#b" x="39.13" y="82.82"/><use href="#b" x="38.63" y="84.36"/><use href="#b" x="111.15" y="76.43"/><use href="#b" x="63.11" y="82.95"/><use href="#b" x="53.95" y="77.83"/><use href="#b" x="123.56" y="83.32"/><use href="#b" x="71.16" y="79.6"/><use href="#b" x="55.6" y="83.19"/><use href="#b" x="65.16" y="77.27"/><use href="#b" x="89.52" y="77.69"/><use href="#b" x="91.76" y="78.55"/><use href="#b" x="88.29" y="84.46"/><use href="#b" x="50.54" y="84.42"/><use href="#b" x="67.49" y="83.27"/><use href="#b" x="87.04" y="80.83"/><use href="#b" x="97.93" y="81.92"/><use href="#b" x="77.09" y="77.9"/><use href="#b" x="103.25" y="83.67"/><use href="#b" x="51.03" y="81.7"/><use href="#b" x="109.44" y="84.2"/><use href="#b" x="75.14" y="85.17"/><use href="#b" x="67.16" y="85.28"/><use href="#b" x="93.28" y="79.11"/><use href="#b" x="62.18" y="84.95"/><use href="#b" x="85.61" y="80.56"/><use href="#b" x="78.07" y="81.6"/><use href="#b" x="67.09" y="84.26"/><use href="#b" x="36.2" y="84.27"/><use href="#b" x="71.44" y="80.04"/><use href="#b" x="67.9" y="85.87"/><use href="#b" x="107.3" y="80.17"/><use href="#b" x="88.56" y="79.7"/><use href="#b" x="98.66" y="79.91"/><use href="#b" x="96.9" y="79.69"/><use href="#b" x="71.08" y="80.49"/><use href="#b" x="119.13" y="82.86"/><use href="#b" x="37.52" y="82.34"/><use href="#b" x="69.5" y="81.89"/><use href="#b" x="44.31" y="85.59"/><use href="#b" x="46.92" y="87.19"/><use href="#b" x="67.5" y="87.37"/><use href="#b" x="90.27" y="79.38"/><use href="#b" x="62.93" y="82.92"/><use href="#b" x="54.17" y="80.13"/><use href="#b" x="70.68" y="85.95"/><use href="#b" x="57.57" y="80.95"/><use href="#b" x="53.58" y="81.93"/><use href="#b" x="63.99" y="86.4"/><use href="#b" x="43.96" y="84.99"/><use href="#b" x="96.75" y="82.9"/><use href="#b" x="65.79" y="85.84"/><use href="#b" x="123.78" y="86.23"/><use href="#b" x="59.31" y="85.83"/><use href="#b" x="68.54" y="81.64"/><use href="#b" x="59.3" y="79.94"/><use href="#b" x="80.13" y="86.44"/><use href="#b" x="48.99" y="88.07"/><use href="#b" x="92.41" y="87.64"/><use href="#b" x="58.61" y="84.45"/><use href="#b" x="82.13" y="81.57"/><use href="#b" x="111.2" y="85.39"/><use href="#b" x="73" y="84.12"/><use href="#b" x="90.6" y="84.36"/><use href="#b" x="84.88" y="86.34"/><use href="#b" x="84.32" y="82.52"/><use href="#b" x="67.1" y="86.28"/><use href="#b" x="85.8" y="88.01"/><use href="#b" x="95.49" y="82.94"/><use href="#b" x="92.42" y="82.03"/><use href="#b" x="45.62" y="87.99"/><use href="#b" x="51.59" y="84.16"/><use href="#b" x="84.37" y="84.62"/><use href="#b" x="56.47" y="85.62"/><use href="#b" x="53.16" y="86.36"/><use href="#b" x="70.71" y="83.89"/><use href="#b" x="78.46" y="88.51"/><use href="#b" x="94.68" y="87.64"/><use href="#b" x="74.2" y="85.26"/><use href="#b" x="81.43" y="85.73"/><use href="#b" x="44.18" y="86.55"/><use href="#b" x="72.07" y="84.97"/><use href="#b" x="66.04" y="84.46"/><use href="#b" x="89.86" y="86.67"/><use href="#b" x="75.45" y="87.38"/><use href="#b" x="71.46" y="82.18"/><use href="#b" x="70.19" y="85.51"/><use href="#b" x="46.47" y="89.23"/><use href="#b" x="72.93" y="86.75"/><use href="#b" x="70.4" y="86.62"/><use href="#b" x="67.52" y="85.35"/><use href="#b" x="86.93" y="84.97"/><use href="#b" x="72.69" y="88.11"/><use href="#b" x="84.34" y="85.11"/><use href="#b" x="63.36" y="87.58"/><use href="#b" x="108.01" y="86.91"/><use href="#b" x="51.1" y="91.31"/><use href="#b" x="71.57" y="89.62"/><use href="#b" x="76.94" y="85.46"/><use href="#b" x="74.05" y="84.27"/><use href="#b" x="54.15" y="83.25"/><use href="#b" x="84.84" y="87.08"/><use href="#b" x="84.48" y="91.63"/><use href="#b" x="93.94" y="88.25"/><use href="#b" x="61.51" y="90.68"/><use href="#b" x="66.47" y="83.95"/><use href="#b" x="77.38" y="84.83"/><use href="#b" x="72.3" y="88.62"/><use href="#b" x="59.18" y="88.83"/><use href="#b" x="79.07" y="87.72"/><use href="#b" x="62.42" y="92.39"/><use href="#b" x="94.64" y="92.17"/><use href="#b" x="83.42" y="90.64"/><use href="#b" x="75.51" y="89.89"/><use href="#b" x="63.01" y="85.82"/><use href="#b" x="75.36" y="91.76"/><use href="#b" x="65.07" y="87.28"/><use href="#b" x="54.37" y="89.62"/><use href="#b" x="78.16" y="90.94"/><use href="#b" x="86.5" y="94.02"/><use href="#b" x="63.38" y="91.79"/><use href="#b" x="48.14" y="90.18"/><use href="#b" x="58.71" y="94.26"/><use href="#b" x="66.54" y="94.08"/><use href="#b" x="62.44" y="92.09"/><use href="#b" x="60.63" y="96.41"/><use href="#b" x="61.8" y="99.24"/>
<line x1="79" y1="59.5" x2="64.49" y2="49.17" stroke="#dfc04f" stroke-width="2.2" />
<polygon points="59.2,45.4 67.05,46.45 62.76,52.47" fill="#dfc04f" />
<line x1="127.3" y1="137" x2="137.72" y2="149.32" stroke="#2aa7e6" stroke-width="2.2" />
<polygon points="141.6,153.9 134.73,151.2 140.07,146.68" fill="#2aa7e6" />
<text x="146.9" y="158.9" font-family='"Liberation Serif", "Times New Roman", serif' font-size="12" font-weight="bold" textLength="23" lengthAdjust="spacingAndGlyphs">ZnO</text>
<text x="184.5" y="26.2" font-family='"Liberation Sans", Arial, sans-serif' font-size="12.5" font-weight="bold" font-style="italic">ii</text>
<text x="179.5" y="45.8" font-family='"Liberation Serif", "Times New Roman", serif' font-size="9.5" font-weight="bold">O<tspan baseline-shift="-1.2" font-size="6.46">2</tspan></text>
<text x="206" y="46" font-family='"Liberation Serif", "Times New Roman", serif' font-size="9.5" font-weight="bold">•O<tspan baseline-shift="-1.5" font-size="6.46">2</tspan><tspan baseline-shift="4" font-size="6.46">−</tspan></text>
<text x="221.5" y="54.3" font-family='"Liberation Serif", "Times New Roman", serif' font-size="9.8" font-weight="bold" textLength="40" lengthAdjust="spacingAndGlyphs">V vs. NHE</text>
<polygon points="185.3,50.64 185.34,51.96 185.44,53.3 185.61,54.59 185.85,55.82 186.15,57 186.52,58.13 186.96,59.19 187.46,60.2 188.01,61.15 188.63,62.03 189.31,62.84 190.04,63.58 190.83,64.24 191.66,64.83 192.54,65.33 193.45,65.74 194.39,66.07 195.35,66.31 196.34,66.46 197.33,66.52 198.32,66.49 199.32,66.37 200.31,66.17 201.29,65.89 202.26,65.53 203.22,65.09 204.15,64.58 205.06,63.99 205.95,63.33 206.82,62.59 207.66,61.79 208.47,60.91 209.24,59.97 209.99,58.96 210.7,57.87 212.9,59.28 211.2,50.6 203.96,53.59 206.17,54.99 205.59,55.82 204.99,56.59 204.39,57.28 203.78,57.9 203.17,58.46 202.55,58.96 201.94,59.39 201.34,59.75 200.74,60.06 200.15,60.31 199.58,60.51 199.03,60.65 198.49,60.74 197.97,60.78 197.47,60.78 196.99,60.74 196.53,60.66 196.09,60.53 195.66,60.37 195.25,60.17 194.85,59.92 194.46,59.63 194.09,59.29 193.73,58.91 193.38,58.47 193.05,57.97 192.74,57.41 192.46,56.8 192.2,56.12 191.98,55.37 191.79,54.56 191.65,53.68 191.55,52.73 191.5,51.72 191.5,50.56" fill="#2f62a3" />
<rect x="199.7" y="67.5" width="4.1" height="45" fill="#a04a10" />
<path d="M201.9 112 V142 H249" fill="none" stroke="#1a1a1a" stroke-width="2.2" />
<rect x="247.5" y="139.4" width="26.3" height="4.8" fill="#808080" />
<text x="168.8" y="90.3" font-family='"Liberation Serif", "Times New Roman", serif' font-size="9.6" font-weight="bold" textLength="27.6" lengthAdjust="spacingAndGlyphs">Pt wire</text>
<text x="181" y="104" font-family='"Liberation Serif", "Times New Roman", serif' font-size="9.5" font-weight="bold">e<tspan baseline-shift="3.5" font-size="6.46">-</tspan></text>
<polygon points="194.55,121.4 194.55,99.8 196.3,99.8 192.7,95.2 189.1,99.8 190.85,99.8 190.85,121.4" fill="#d6e4f6" stroke="#93b6e1" stroke-width="0.8" stroke-linejoin="round"/>
<line x1="226" y1="63" x2="226" y2="135.2" stroke="#8eb0d8" stroke-width="1.2" />
<line x1="226" y1="63.6" x2="238" y2="63.6" stroke="#8eb0d8" stroke-width="1.2" />
<text x="223.5" y="68.8" font-family='"Liberation Serif", "Times New Roman", serif' font-size="9.5" font-weight="bold" text-anchor="end">-2</text>
<line x1="226" y1="70.3" x2="232.5" y2="70.3" stroke="#8eb0d8" stroke-width="1.1" />
<line x1="226" y1="77" x2="238" y2="77" stroke="#8eb0d8" stroke-width="1.2" />
<text x="223.5" y="81.8" font-family='"Liberation Serif", "Times New Roman", serif' font-size="9.5" font-weight="bold" text-anchor="end">-1</text>
<line x1="226" y1="84.3" x2="232.5" y2="84.3" stroke="#8eb0d8" stroke-width="1.1" />
<line x1="226" y1="91.6" x2="238" y2="91.6" stroke="#8eb0d8" stroke-width="1.2" />
<text x="223.5" y="95.9" font-family='"Liberation Serif", "Times New Roman", serif' font-size="9.5" font-weight="bold" text-anchor="end">0</text>
<line x1="226" y1="99.4" x2="232.5" y2="99.4" stroke="#8eb0d8" stroke-width="1.1" />
<line x1="226" y1="107.2" x2="238" y2="107.2" stroke="#8eb0d8" stroke-width="1.2" />
<text x="223.5" y="110.9" font-family='"Liberation Serif", "Times New Roman", serif' font-size="9.5" font-weight="bold" text-anchor="end">1</text>
<line x1="226" y1="114.2" x2="232.5" y2="114.2" stroke="#8eb0d8" stroke-width="1.1" />
<line x1="226" y1="121.2" x2="238" y2="121.2" stroke="#8eb0d8" stroke-width="1.2" />
<text x="223.5" y="125.2" font-family='"Liberation Serif", "Times New Roman", serif' font-size="9.5" font-weight="bold" text-anchor="end">2</text>
<line x1="226" y1="127.9" x2="232.5" y2="127.9" stroke="#8eb0d8" stroke-width="1.1" />
<line x1="226" y1="134.6" x2="238" y2="134.6" stroke="#8eb0d8" stroke-width="1.2" />
<text x="223.5" y="138.1" font-family='"Liberation Serif", "Times New Roman", serif' font-size="9.5" font-weight="bold" text-anchor="end">3</text>
<polygon points="243.5,95.2 243.5,119.2 241.7,119.2 245.2,123.8 248.7,119.2 246.9,119.2 246.9,95.2" fill="#d6e4f6" stroke="#93b6e1" stroke-width="0.8" stroke-linejoin="round"/>
<polygon points="237.8,146.9 219,146.9 219,145.1 214,148.8 219,152.5 219,150.7 237.8,150.7" fill="#d6e4f6" stroke="#93b6e1" stroke-width="0.8" stroke-linejoin="round"/>
<text x="223" y="162" font-family='"Liberation Serif", "Times New Roman", serif' font-size="9.5" font-weight="bold">e<tspan baseline-shift="3.5" font-size="6.46">-</tspan></text>
<text x="256.2" y="157.6" font-family='"Liberation Serif", "Times New Roman", serif' font-size="9.8" font-weight="bold" textLength="18.6" lengthAdjust="spacingAndGlyphs">FTO</text>
<ellipse cx="262.3" cy="114.1" rx="11.3" ry="24.7" fill="url(#gz)" stroke="#7a7a7a" stroke-width="0.9"/>
<ellipse cx="286" cy="106" rx="11.3" ry="19.6" fill="url(#gb)" stroke="#dc8850" stroke-width="0.9"/>
<text x="254.3" y="117.5" font-family='"Liberation Serif", "Times New Roman", serif' font-size="9.8" font-weight="bold" textLength="18.6" lengthAdjust="spacingAndGlyphs">ZnO</text>
<text x="274.6" y="108.2" font-family='"Liberation Serif", "Times New Roman", serif' font-size="9.8" font-weight="bold" textLength="23.8" lengthAdjust="spacingAndGlyphs">BiVO<tspan baseline-shift="-1.2" font-size="6.66">4</tspan></text>
<text x="254.4" y="75.3" font-family='"Liberation Serif", "Times New Roman", serif' font-size="9.5" font-weight="bold">e<tspan baseline-shift="3.5" font-size="6.46">-</tspan></text>
<path d="M262.2 83.6 C264 70.5 281 70.5 283.4 82.2 L285.2 81.6 L283.3 86.6 L279.5 83.2 L281.2 82.7 C279 74 266.5 74.5 264.8 84.3 Z" fill="#c2d6f0" stroke="#8fb4e0" stroke-width="0.8" stroke-linejoin="round"/>
<path d="M272.2 133.4 C274 143.5 290 143.5 292.3 133 L289.8 132.2 C287.5 139 276.5 139.5 274.6 132.2 Z" fill="#d4c9e4" stroke="#b3a2c7" stroke-width="0.8" stroke-linejoin="round"/>
<text x="285.4" y="151" font-family='"Liberation Serif", "Times New Roman", serif' font-size="9.5" font-weight="bold">h<tspan baseline-shift="3.2" font-size="6.46">+</tspan></text>
<polygon points="297.6,42 313.2,45.8 303,51.6 306,52.6 293,57.6 295.8,58.6 273.8,63.8 285.4,56.4 282.6,55.4 293,50.2 289,49" fill="#ffe81a" stroke="#f2b705" stroke-width="0.9" stroke-linejoin="round"/>
<text x="293.6" y="71.8" font-family='"Liberation Serif", "Times New Roman", serif' font-size="10" font-weight="bold" textLength="46" lengthAdjust="spacingAndGlyphs">Visible light</text>
<polygon points="308.07,121.8 305.97,121.95 303.92,122.26 302.04,122.74 300.32,123.37 298.76,124.16 297.38,125.08 296.19,126.14 295.19,127.33 294.4,128.61 293.83,129.98 293.48,131.41 293.37,132.86 293.48,134.32 293.81,135.75 294.35,137.15 295.1,138.49 296.03,139.75 297.14,140.93 298.44,142.03 299.9,143.01 301.53,143.89 300.47,146.06 307.8,143.8 304.44,137.99 303.37,140.16 302.12,139.43 301.04,138.66 300.13,137.84 299.39,137.01 298.8,136.16 298.37,135.32 298.07,134.49 297.92,133.69 297.88,132.91 297.96,132.17 298.16,131.45 298.47,130.76 298.91,130.1 299.49,129.46 300.22,128.85 301.1,128.29 302.16,127.8 303.4,127.38 304.82,127.06 306.43,126.87 308.33,126.8" fill="#2f62a3" />
<text x="314.6" y="125.6" font-family='"Liberation Serif", "Times New Roman", serif' font-size="9.8" font-weight="bold" textLength="16.8" lengthAdjust="spacingAndGlyphs">H<tspan baseline-shift="-1.2" font-size="6.66">2</tspan>O</text>
<text x="312.8" y="147.6" font-family='"Liberation Serif", "Times New Roman", serif' font-size="9.8" font-weight="bold" textLength="17.6" lengthAdjust="spacingAndGlyphs">•OH</text>
<text x="371" y="30.2" font-family='"Liberation Sans", Arial, sans-serif' font-size="12.5" font-weight="bold" font-style="italic">iii</text>
<line x1="369.6" y1="146.2" x2="372" y2="146.2" stroke="#6e6e6e" stroke-width="1" />
<text x="367.6" y="148.5" font-family='"Liberation Sans", Arial, sans-serif' font-size="6.5" font-weight="normal" text-anchor="end" fill="#333">0</text>
<line x1="369.6" y1="126.79" x2="372" y2="126.79" stroke="#6e6e6e" stroke-width="1" />
<text x="367.6" y="129.09" font-family='"Liberation Sans", Arial, sans-serif' font-size="6.5" font-weight="normal" text-anchor="end" fill="#333">20</text>
<line x1="369.6" y1="107.38" x2="372" y2="107.38" stroke="#6e6e6e" stroke-width="1" />
<text x="367.6" y="109.68" font-family='"Liberation Sans", Arial, sans-serif' font-size="6.5" font-weight="normal" text-anchor="end" fill="#333">40</text>
<line x1="369.6" y1="87.97" x2="372" y2="87.97" stroke="#6e6e6e" stroke-width="1" />
<text x="367.6" y="90.27" font-family='"Liberation Sans", Arial, sans-serif' font-size="6.5" font-weight="normal" text-anchor="end" fill="#333">60</text>
<line x1="369.6" y1="68.56" x2="372" y2="68.56" stroke="#6e6e6e" stroke-width="1" />
<text x="367.6" y="70.86" font-family='"Liberation Sans", Arial, sans-serif' font-size="6.5" font-weight="normal" text-anchor="end" fill="#333">80</text>
<line x1="369.6" y1="49.15" x2="372" y2="49.15" stroke="#6e6e6e" stroke-width="1" />
<text x="367.6" y="51.45" font-family='"Liberation Sans", Arial, sans-serif' font-size="6.5" font-weight="normal" text-anchor="end" fill="#333">100</text>
<line x1="370.6" y1="136.49" x2="372" y2="136.49" stroke="#6e6e6e" stroke-width="0.8" />
<line x1="370.6" y1="117.08" x2="372" y2="117.08" stroke="#6e6e6e" stroke-width="0.8" />
<line x1="370.6" y1="97.67" x2="372" y2="97.67" stroke="#6e6e6e" stroke-width="0.8" />
<line x1="370.6" y1="78.26" x2="372" y2="78.26" stroke="#6e6e6e" stroke-width="0.8" />
<line x1="370.6" y1="58.85" x2="372" y2="58.85" stroke="#6e6e6e" stroke-width="0.8" />
<line x1="388.1" y1="146.2" x2="388.1" y2="148.6" stroke="#6e6e6e" stroke-width="1" />
<text x="387.1" y="156.1" font-family='"Liberation Sans", Arial, sans-serif' font-size="6.6" font-weight="normal" text-anchor="middle" fill="#333">-20</text>
<line x1="420.8" y1="146.2" x2="420.8" y2="148.6" stroke="#6e6e6e" stroke-width="1" />
<text x="420.8" y="156.1" font-family='"Liberation Sans", Arial, sans-serif' font-size="6.6" font-weight="normal" text-anchor="middle" fill="#333">0</text>
<line x1="453.5" y1="146.2" x2="453.5" y2="148.6" stroke="#6e6e6e" stroke-width="1" />
<text x="453.5" y="156.1" font-family='"Liberation Sans", Arial, sans-serif' font-size="6.6" font-weight="normal" text-anchor="middle" fill="#333">20</text>
<line x1="486.2" y1="146.2" x2="486.2" y2="148.6" stroke="#6e6e6e" stroke-width="1" />
<text x="486.2" y="156.1" font-family='"Liberation Sans", Arial, sans-serif' font-size="6.6" font-weight="normal" text-anchor="middle" fill="#333">40</text>
<line x1="518.9" y1="146.2" x2="518.9" y2="148.6" stroke="#6e6e6e" stroke-width="1" />
<text x="518.9" y="156.1" font-family='"Liberation Sans", Arial, sans-serif' font-size="6.6" font-weight="normal" text-anchor="middle" fill="#333">60</text>
<line x1="371.75" y1="146.2" x2="371.75" y2="147.6" stroke="#6e6e6e" stroke-width="0.8" />
<line x1="404.45" y1="146.2" x2="404.45" y2="147.6" stroke="#6e6e6e" stroke-width="0.8" />
<line x1="437.15" y1="146.2" x2="437.15" y2="147.6" stroke="#6e6e6e" stroke-width="0.8" />
<line x1="469.85" y1="146.2" x2="469.85" y2="147.6" stroke="#6e6e6e" stroke-width="0.8" />
<line x1="502.55" y1="146.2" x2="502.55" y2="147.6" stroke="#6e6e6e" stroke-width="0.8" />
<line x1="420.8" y1="45.6" x2="420.8" y2="65.4" stroke="#8a8a8a" stroke-width="1.3" />
<text x="428.3" y="52.3" font-family='"Liberation Sans", Arial, sans-serif' font-size="8.3" font-weight="normal" fill="#444" textLength="28" lengthAdjust="spacingAndGlyphs">Light on</text>
<polyline points="371.75,49.15 396.28,50.12 420.8,51.09 437.15,59.83 453.5,67.59 469.85,68.75 486.2,75.16 502.55,84.28 518.9,87.29" fill="none" stroke="#111111" stroke-width="1.3" stroke-linejoin="round"/>
<circle cx="371.75" cy="49.15" r="1.5" fill="#111111"/>
<circle cx="396.28" cy="50.12" r="1.5" fill="#111111"/>
<circle cx="420.8" cy="51.09" r="1.5" fill="#111111"/>
<circle cx="437.15" cy="59.83" r="1.5" fill="#111111"/>
<circle cx="453.5" cy="67.59" r="1.5" fill="#111111"/>
<circle cx="469.85" cy="68.75" r="1.5" fill="#111111"/>
<circle cx="486.2" cy="75.16" r="1.5" fill="#111111"/>
<circle cx="502.55" cy="84.28" r="1.5" fill="#111111"/>
<circle cx="518.9" cy="87.29" r="1.5" fill="#111111"/>
<polyline points="371.75,49.15 396.28,50.51 420.8,50.31 437.15,59.53 453.5,72.64 469.85,80.21 486.2,84.28 502.55,86.32 518.9,94.28" fill="none" stroke="#f01818" stroke-width="1.3" stroke-linejoin="round"/>
<circle cx="371.75" cy="49.15" r="1.5" fill="#f01818"/>
<circle cx="396.28" cy="50.51" r="1.5" fill="#f01818"/>
<circle cx="420.8" cy="50.31" r="1.5" fill="#f01818"/>
<circle cx="437.15" cy="59.53" r="1.5" fill="#f01818"/>
<circle cx="453.5" cy="72.64" r="1.5" fill="#f01818"/>
<circle cx="469.85" cy="80.21" r="1.5" fill="#f01818"/>
<circle cx="486.2" cy="84.28" r="1.5" fill="#f01818"/>
<circle cx="502.55" cy="86.32" r="1.5" fill="#f01818"/>
<circle cx="518.9" cy="94.28" r="1.5" fill="#f01818"/>
<polyline points="371.75,49.15 396.28,49.54 420.8,52.16 437.15,62.74 453.5,75.26 469.85,84.86 486.2,93.31 502.55,105.34 518.9,106.31" fill="none" stroke="#1a1af0" stroke-width="1.3" stroke-linejoin="round"/>
<polygon points="371.75,47.2 369.95,50.5 373.55,50.5" fill="#1a1af0" />
<polygon points="396.28,47.59 394.48,50.89 398.08,50.89" fill="#1a1af0" />
<polygon points="420.8,50.21 419,53.51 422.6,53.51" fill="#1a1af0" />
<polygon points="437.15,60.79 435.35,64.09 438.95,64.09" fill="#1a1af0" />
<polygon points="453.5,73.31 451.7,76.61 455.3,76.61" fill="#1a1af0" />
<polygon points="469.85,82.91 468.05,86.21 471.65,86.21" fill="#1a1af0" />
<polygon points="486.2,91.36 484.4,94.66 488,94.66" fill="#1a1af0" />
<polygon points="502.55,103.39 500.75,106.69 504.35,106.69" fill="#1a1af0" />
<polygon points="518.9,104.36 517.1,107.66 520.7,107.66" fill="#1a1af0" />
<polyline points="371.75,49.15 396.28,55.56 420.8,57.79 437.15,72.64 453.5,88.65 469.85,104.37 486.2,115.82 502.55,123.88 518.9,130.87" fill="none" stroke="#f21ad8" stroke-width="1.3" stroke-linejoin="round"/>
<polygon points="371.75,51.1 369.95,47.8 373.55,47.8" fill="#f21ad8" />
<polygon points="396.28,57.51 394.48,54.21 398.08,54.21" fill="#f21ad8" />
<polygon points="420.8,59.74 419,56.44 422.6,56.44" fill="#f21ad8" />
<polygon points="437.15,74.59 435.35,71.29 438.95,71.29" fill="#f21ad8" />
<polygon points="453.5,90.6 451.7,87.3 455.3,87.3" fill="#f21ad8" />
<polygon points="469.85,106.32 468.05,103.02 471.65,103.02" fill="#f21ad8" />
<polygon points="486.2,117.77 484.4,114.47 488,114.47" fill="#f21ad8" />
<polygon points="502.55,125.83 500.75,122.53 504.35,122.53" fill="#f21ad8" />
<polygon points="518.9,132.82 517.1,129.52 520.7,129.52" fill="#f21ad8" />
<rect x="372" y="39.1" width="155.4" height="107.1" fill="none" stroke="#6e6e6e" stroke-width="1" />
<line x1="397" y1="102.6" x2="413.8" y2="102.6" stroke="#111111" stroke-width="1.3" />
<circle cx="405.5" cy="102.6" r="1.5" fill="#111111"/>
<text x="416.1" y="105.6" font-family='"Liberation Sans", Arial, sans-serif' font-size="8.2" font-weight="normal" fill="#222" textLength="15.3" lengthAdjust="spacingAndGlyphs">FTO</text>
<line x1="397" y1="111.8" x2="413.8" y2="111.8" stroke="#f01818" stroke-width="1.3" />
<circle cx="405.5" cy="111.8" r="1.5" fill="#f01818"/>
<text x="416.1" y="114.8" font-family='"Liberation Sans", Arial, sans-serif' font-size="8.2" font-weight="normal" fill="#222" textLength="13.9" lengthAdjust="spacingAndGlyphs">ZnO</text>
<line x1="397" y1="120.5" x2="413.8" y2="120.5" stroke="#1a1af0" stroke-width="1.3" />
<polygon points="405.5,118.55 403.7,121.85 407.3,121.85" fill="#1a1af0" />
<text x="416.1" y="123.5" font-family='"Liberation Sans", Arial, sans-serif' font-size="8.2" font-weight="normal" fill="#222" textLength="18.4" lengthAdjust="spacingAndGlyphs">BiVO<tspan baseline-shift="-1.6" font-size="5.58">4</tspan></text>
<line x1="397" y1="131.5" x2="413.8" y2="131.5" stroke="#f21ad8" stroke-width="1.3" />
<polygon points="405.5,133.45 403.7,130.15 407.3,130.15" fill="#f21ad8" />
<text x="416.1" y="134.5" font-family='"Liberation Sans", Arial, sans-serif' font-size="8.2" font-weight="normal" fill="#222" textLength="38.2" lengthAdjust="spacingAndGlyphs">ZnO/BiVO<tspan baseline-shift="-1.6" font-size="5.58">4</tspan></text>
<text x="449.5" y="168.6" font-family='"Liberation Sans", Arial, sans-serif' font-size="9.2" font-weight="bold" text-anchor="middle" fill="#333" textLength="39.5" lengthAdjust="spacingAndGlyphs">Time (min)</text>
<text x="351.2" y="97.2" font-family='"Liberation Sans", Arial, sans-serif' font-size="8" font-weight="bold" text-anchor="middle" fill="#333" textLength="28.6" lengthAdjust="spacingAndGlyphs" transform="rotate(-90 351.2 97.2)">C/C<tspan baseline-shift="-1.5" font-size="5.44">0</tspan> (%)</text>
<text x="16.2" y="207.3" font-family='"Liberation Sans", Arial, sans-serif' font-size="19.5" font-weight="bold">B</text>
<g clip-path="url(#ctem)">
<rect x="44.5" y="197" width="134.1" height="151.4" fill="#e4e4e4" />
<g filter="url(#temd)">
<circle cx="58" cy="208" r="16" fill="#444"/>
<circle cx="76" cy="204" r="13" fill="#3c3c3c"/>
<circle cx="54" cy="228" r="12" fill="#505050"/>
<circle cx="68" cy="234" r="11" fill="#484848"/>
<circle cx="50" cy="245" r="8" fill="#7c7c7c"/>
<circle cx="62" cy="252" r="8" fill="#808080"/>
<circle cx="52" cy="268" r="9" fill="#a0a0a0"/>
<circle cx="66" cy="284" r="12" fill="#646464"/>
<circle cx="52" cy="290" r="8" fill="#808080"/>
<circle cx="74" cy="264" r="8" fill="#747474"/>
<circle cx="58" cy="276" r="7" fill="#868686"/>
<circle cx="150" cy="203" r="12" fill="#7a7a7a"/>
<circle cx="168" cy="202" r="10" fill="#909090"/>
<circle cx="143" cy="214" r="9" fill="#525252"/>
<circle cx="172" cy="214" r="7" fill="#7c7c7c"/>
<circle cx="160" cy="234" r="17.5" fill="#303030"/>
<circle cx="173" cy="250" r="10" fill="#3a3a3a"/>
<circle cx="150" cy="222" r="9" fill="#3c3c3c"/>
<circle cx="172" cy="228" r="9" fill="#363636"/>
<circle cx="166" cy="268" r="12.5" fill="#383838"/>
<circle cx="172" cy="284" r="10" fill="#3e3e3e"/>
<circle cx="155" cy="280" r="10" fill="#404040"/>
<circle cx="137" cy="280" r="13" fill="#383838"/>
<circle cx="144" cy="268" r="8" fill="#505050"/>
<circle cx="128" cy="293" r="10" fill="#3c3c3c"/>
<circle cx="150" cy="292" r="6" fill="#5c5c5c"/>
<circle cx="164" cy="312" r="12" fill="#343434"/>
<circle cx="160" cy="301" r="8" fill="#404040"/>
<circle cx="168" cy="326" r="7" fill="#4a4a4a"/>
<circle cx="158" cy="322" r="6" fill="#505050"/>
<circle cx="132" cy="259" r="9" fill="#424242"/>
<circle cx="139" cy="251" r="6" fill="#4c4c4c"/>
<circle cx="127" cy="268" r="6" fill="#484848"/>
<circle cx="60" cy="262" r="9" fill="#949494"/>
<circle cx="48" cy="256" r="7" fill="#a6a6a6"/>
<circle cx="70" cy="274" r="7" fill="#828282"/>
<circle cx="60" cy="313" r="17" fill="#303030"/>
<circle cx="74" cy="302" r="12" fill="#323232"/>
<circle cx="50" cy="304" r="9" fill="#4a4a4a"/>
<circle cx="64" cy="331" r="8" fill="#555"/>
<circle cx="50" cy="326" r="8" fill="#606060"/>
<circle cx="80" cy="337" r="6" fill="#808080"/>
<circle cx="50" cy="340" r="5" fill="#a0a0a0"/>
<circle cx="112" cy="222" r="27" fill="#252525"/>
<circle cx="103" cy="204" r="19" fill="#252525"/>
<circle cx="126" cy="206" r="16" fill="#252525"/>
<circle cx="130" cy="236" r="13" fill="#252525"/>
<circle cx="80" cy="220" r="12" fill="#252525"/>
<circle cx="92" cy="240" r="15" fill="#252525"/>
<circle cx="98" cy="262" r="20" fill="#252525"/>
<circle cx="92" cy="288" r="23" fill="#252525"/>
<circle cx="101" cy="312" r="22" fill="#252525"/>
<circle cx="113" cy="294" r="15" fill="#252525"/>
<circle cx="122" cy="306" r="10" fill="#252525"/>
<circle cx="99" cy="334" r="11" fill="#252525"/>
<circle cx="84" cy="270" r="13" fill="#252525"/>
<circle cx="120" cy="246" r="11" fill="#252525"/>
<circle cx="124" cy="282" r="9" fill="#252525"/>
<circle cx="80" cy="300" r="10" fill="#252525"/>
<circle cx="116" cy="266" r="5.5" fill="#f0f0f0"/>
<circle cx="121" cy="261" r="3.5" fill="#f0f0f0"/>
<circle cx="111" cy="271" r="3" fill="#f0f0f0"/>
<circle cx="149" cy="263" r="4.5" fill="#f0f0f0"/>
<circle cx="84" cy="239" r="3" fill="#f0f0f0"/>
<circle cx="77" cy="247" r="3.5" fill="#f0f0f0"/>
<circle cx="139" cy="300" r="5" fill="#f0f0f0"/>
<circle cx="145" cy="312" r="8" fill="#f0f0f0"/>
</g>
<rect x="44.5" y="197" width="134.1" height="151.4" fill="#000" filter="url(#grain)" opacity="0.22"/>
<rect x="44.5" y="197" width="134.1" height="151.4" fill="#fff" filter="url(#grainw)" opacity="0.07"/>
</g>
<rect x="44.5" y="197" width="22.2" height="21" fill="#fff" />
<text x="54" y="212.3" font-family='"Liberation Sans", Arial, sans-serif' font-size="14" font-weight="bold" font-style="italic">i</text>
<ellipse cx="122" cy="305" rx="8.4" ry="5.4" fill="none" stroke="#f2b81e" stroke-width="1.5" stroke-dasharray="1.3 1.5"/>
<ellipse cx="106" cy="327.5" rx="8.4" ry="5.4" fill="none" stroke="#ee1c1c" stroke-width="1.5" stroke-dasharray="1.3 1.5"/>
<line x1="130" y1="300.5" x2="179.2" y2="238.72" stroke="#f0b21c" stroke-width="1.4" />
<polygon points="182,235.2 180.53,240.42 177.24,237.8" fill="#f0b21c" />
<line x1="114.5" y1="326.6" x2="177.1" y2="313.33" stroke="#ee1c1c" stroke-width="1.3" />
<polygon points="181.5,312.4 177.04,315.49 176.17,311.38" fill="#ee1c1c" />
<rect x="127" y="331" width="29.5" height="3.2" fill="#000" />
<text x="121.6" y="345.4" font-family='"Liberation Serif", "Times New Roman", serif' font-size="12.2" font-weight="normal" textLength="41.5" lengthAdjust="spacingAndGlyphs">200nm</text>
<rect x="182" y="197.6" width="98.6" height="74.4" fill="url(#h1)" />
<rect x="182" y="197.6" width="98.6" height="74.4" fill="#000" filter="url(#h1n)" opacity="0.6"/>
<g clip-path="url(#h1c)"><g filter="url(#bl5)">
<circle cx="264" cy="222" r="20" fill="#000" opacity="0.42"/>
<circle cx="276" cy="262" r="13" fill="#000" opacity="0.4"/>
<circle cx="198" cy="264" r="13" fill="#000" opacity="0.3"/>
<circle cx="240" cy="204" r="16" fill="#000" opacity="0.25"/>
<circle cx="206" cy="228" r="17" fill="#fff" opacity="0.22"/>
<circle cx="232" cy="250" r="12" fill="#fff" opacity="0.14"/>
</g></g>
<text x="219" y="207.2" font-family='"Liberation Serif", "Times New Roman", serif' font-size="11.5" font-weight="normal" fill="#fff" textLength="61" lengthAdjust="spacingAndGlyphs">d=0.191nm</text>
<text x="195" y="250.6" font-family='"Liberation Serif", "Times New Roman", serif' font-size="11.5" font-weight="normal" fill="#f4f4f4" textLength="41" lengthAdjust="spacingAndGlyphs">Ag<tspan baseline-shift="-2" font-size="7.82">3</tspan>VO<tspan baseline-shift="-2" font-size="7.82">4</tspan></text>
<text x="201" y="266.8" font-family='"Liberation Serif", "Times New Roman", serif' font-size="11.5" font-weight="normal" fill="#f4f4f4" textLength="28" lengthAdjust="spacingAndGlyphs">(220)</text>
<rect x="244" y="257.6" width="33.4" height="1.5" fill="#000" />
<text x="253" y="267" font-family='"Liberation Serif", "Times New Roman", serif' font-size="8.5" font-weight="normal" fill="#111" textLength="18" lengthAdjust="spacingAndGlyphs">2nm</text>
<line x1="219.3" y1="234.3" x2="237.5" y2="216.1" stroke="#fff" stroke-width="1.6" />
<line x1="222.6" y1="236.3" x2="241" y2="218" stroke="#fff" stroke-width="1.6" />
<line x1="207" y1="210.6" x2="221.12" y2="219.43" stroke="#fff" stroke-width="1" />
<polygon points="224.6,221.6 219.69,220.77 221.71,217.55" fill="#fff" />
<line x1="249.6" y1="236.2" x2="236.98" y2="229.19" stroke="#fff" stroke-width="1" />
<polygon points="233.4,227.2 238.34,227.77 236.5,231.09" fill="#fff" />
<rect x="182" y="274.6" width="98.6" height="73.8" fill="url(#h2)" />
<rect x="182" y="274.6" width="98.6" height="73.8" fill="#000" filter="url(#h2n)" opacity="0.6"/>
<g clip-path="url(#h2c)"><g filter="url(#bl5)">
<circle cx="266" cy="286" r="17" fill="#000" opacity="0.4"/>
<circle cx="225" cy="300" r="12" fill="#000" opacity="0.25"/>
<circle cx="196" cy="340" r="14" fill="#000" opacity="0.25"/>
<circle cx="262" cy="340" r="14" fill="#000" opacity="0.25"/>
<circle cx="200" cy="300" r="16" fill="#fff" opacity="0.18"/>
<circle cx="235" cy="325" r="14" fill="#fff" opacity="0.12"/>
</g></g>
<text x="247" y="308" font-family='"Liberation Serif", "Times New Roman", serif' font-size="10.6" font-weight="normal" fill="#f4f4f4" textLength="31" lengthAdjust="spacingAndGlyphs">BiVO<tspan baseline-shift="-2" font-size="7.21">4</tspan></text>
<text x="247.6" y="323.6" font-family='"Liberation Serif", "Times New Roman", serif' font-size="10.6" font-weight="normal" fill="#f4f4f4" textLength="26.4" lengthAdjust="spacingAndGlyphs">(121)</text>
<text x="185.8" y="341.4" font-family='"Liberation Serif", "Times New Roman", serif' font-size="10.8" font-weight="normal" fill="#f4f4f4" textLength="57.4" lengthAdjust="spacingAndGlyphs">d=0.162nm</text>
<rect x="251.8" y="335.9" width="25.8" height="1.6" fill="#000" />
<text x="257.4" y="345.2" font-family='"Liberation Serif", "Times New Roman", serif' font-size="8" font-weight="normal" fill="#111" textLength="17" lengthAdjust="spacingAndGlyphs">2nm</text>
<line x1="210.7" y1="317" x2="243.2" y2="311.2" stroke="#fff" stroke-width="1.9" />
<line x1="211.6" y1="320.4" x2="244.2" y2="315" stroke="#fff" stroke-width="1.9" />
<line x1="219.6" y1="295.4" x2="224.48" y2="307.59" stroke="#fff" stroke-width="1" />
<polygon points="226,311.4 222.53,307.83 226.06,306.42" fill="#fff" />
<line x1="238.2" y1="335" x2="232.9" y2="323.33" stroke="#fff" stroke-width="1" />
<polygon points="231.2,319.6 234.83,323 231.37,324.57" fill="#fff" />
<line x1="44" y1="351.6" x2="200" y2="351.6" stroke="#8c8c8c" stroke-width="0.9" />
<line x1="204" y1="351.6" x2="256" y2="351.6" stroke="#d49a78" stroke-width="0.9" />
<line x1="256" y1="351.6" x2="280.6" y2="351.6" stroke="#8c8c8c" stroke-width="0.9" />
<line x1="46" y1="351.6" x2="52" y2="351.6" stroke="#49c2c2" stroke-width="0.9" />
<line x1="128" y1="351.6" x2="130" y2="351.6" stroke="#fff" stroke-width="1.2" />
<line x1="134" y1="351.6" x2="142" y2="351.6" stroke="#d86a6a" stroke-width="0.9" />
<text x="323.4" y="213.2" font-family='"Liberation Sans", Arial, sans-serif' font-size="12.5" font-weight="bold" font-style="italic">ii</text>
<rect x="359.2" y="323.69" width="20.4" height="11.21" fill="#000000" />
<text x="369.4" y="320.49" font-family='"Liberation Sans", Arial, sans-serif' font-size="7.8" font-weight="bold" text-anchor="middle" fill="#111" textLength="16.6" lengthAdjust="spacingAndGlyphs">9.4%</text>
<rect x="384.42" y="301.03" width="20.4" height="33.87" fill="#ff0000" />
<text x="394.62" y="297.83" font-family='"Liberation Sans", Arial, sans-serif' font-size="7.8" font-weight="bold" text-anchor="middle" fill="#111" textLength="20" lengthAdjust="spacingAndGlyphs">28.4%</text>
<rect x="409.64" y="272.06" width="20.4" height="62.84" fill="#0000ff" />
<text x="419.84" y="268.86" font-family='"Liberation Sans", Arial, sans-serif' font-size="7.8" font-weight="bold" text-anchor="middle" fill="#111" textLength="20" lengthAdjust="spacingAndGlyphs">52.7%</text>
<rect x="434.86" y="257.98" width="20.4" height="76.92" fill="#0a9a9a" />
<text x="445.06" y="254.78" font-family='"Liberation Sans", Arial, sans-serif' font-size="7.8" font-weight="bold" text-anchor="middle" fill="#111" textLength="20" lengthAdjust="spacingAndGlyphs">64.5%</text>
<rect x="460.08" y="244.51" width="20.4" height="90.39" fill="#ff3eb0" />
<text x="470.28" y="241.31" font-family='"Liberation Sans", Arial, sans-serif' font-size="7.8" font-weight="bold" text-anchor="middle" fill="#111" textLength="20" lengthAdjust="spacingAndGlyphs">75.8%</text>
<rect x="485.3" y="220.54" width="20.4" height="114.36" fill="#cdcd00" />
<text x="495.5" y="217.34" font-family='"Liberation Sans", Arial, sans-serif' font-size="7.8" font-weight="bold" text-anchor="middle" fill="#111" textLength="20" lengthAdjust="spacingAndGlyphs">95.9%</text>
<rect x="510.52" y="273.49" width="20.4" height="61.41" fill="#000080" />
<text x="520.72" y="270.29" font-family='"Liberation Sans", Arial, sans-serif' font-size="7.8" font-weight="bold" text-anchor="middle" fill="#111" textLength="20" lengthAdjust="spacingAndGlyphs">51.5%</text>
<path d="M356.1 203.9 H533.3 V334.9" fill="none" stroke="#2a2a2a" stroke-width="1" />
<path d="M356.3 203.4 V335 H533.8" fill="none" stroke="#000" stroke-width="1.8" />
<line x1="352.9" y1="334.9" x2="356.1" y2="334.9" stroke="#000" stroke-width="1.1" />
<text x="351.1" y="337.4" font-family='"Liberation Serif", "Times New Roman", serif' font-size="7.4" font-weight="bold" text-anchor="end">0</text>
<line x1="352.9" y1="311.05" x2="356.1" y2="311.05" stroke="#000" stroke-width="1.1" />
<text x="351.1" y="313.55" font-family='"Liberation Serif", "Times New Roman", serif' font-size="7.4" font-weight="bold" text-anchor="end">20</text>
<line x1="352.9" y1="287.2" x2="356.1" y2="287.2" stroke="#000" stroke-width="1.1" />
<text x="351.1" y="289.7" font-family='"Liberation Serif", "Times New Roman", serif' font-size="7.4" font-weight="bold" text-anchor="end">40</text>
<line x1="352.9" y1="263.35" x2="356.1" y2="263.35" stroke="#000" stroke-width="1.1" />
<text x="351.1" y="265.85" font-family='"Liberation Serif", "Times New Roman", serif' font-size="7.4" font-weight="bold" text-anchor="end">60</text>
<line x1="352.9" y1="239.5" x2="356.1" y2="239.5" stroke="#000" stroke-width="1.1" />
<text x="351.1" y="242" font-family='"Liberation Serif", "Times New Roman", serif' font-size="7.4" font-weight="bold" text-anchor="end">80</text>
<line x1="352.9" y1="215.65" x2="356.1" y2="215.65" stroke="#000" stroke-width="1.1" />
<text x="351.1" y="218.15" font-family='"Liberation Serif", "Times New Roman", serif' font-size="7.4" font-weight="bold" text-anchor="end">100</text>
<line x1="354.1" y1="322.97" x2="356.1" y2="322.97" stroke="#000" stroke-width="1" />
<line x1="354.1" y1="299.12" x2="356.1" y2="299.12" stroke="#000" stroke-width="1" />
<line x1="354.1" y1="275.27" x2="356.1" y2="275.27" stroke="#000" stroke-width="1" />
<line x1="354.1" y1="251.42" x2="356.1" y2="251.42" stroke="#000" stroke-width="1" />
<line x1="354.1" y1="227.57" x2="356.1" y2="227.57" stroke="#000" stroke-width="1" />
<text x="357.5" y="344.9" font-family='"Liberation Serif", "Times New Roman", serif' font-size="7.8" font-weight="bold" textLength="21.4" lengthAdjust="spacingAndGlyphs">BiVO<tspan baseline-shift="-2.2" font-size="6.63">4</tspan></text>
<text x="381.8" y="344.9" font-family='"Liberation Serif", "Times New Roman", serif' font-size="7.8" font-weight="bold" textLength="27.6" lengthAdjust="spacingAndGlyphs">Ag<tspan baseline-shift="-2.2" font-size="6.63">3</tspan>VO<tspan baseline-shift="-2.2" font-size="6.63">4</tspan></text>
<text x="414.8" y="345.3" font-family='"Liberation Serif", "Times New Roman", serif' font-size="7.8" font-weight="bold" textLength="12.8" lengthAdjust="spacingAndGlyphs">A/B</text>
<text x="436.5" y="345.1" font-family='"Liberation Serif", "Times New Roman", serif' font-size="7.8" font-weight="bold" textLength="16.6" lengthAdjust="spacingAndGlyphs">A/3B</text>
<text x="462.6" y="344.9" font-family='"Liberation Serif", "Times New Roman", serif' font-size="7.8" font-weight="bold" textLength="16.6" lengthAdjust="spacingAndGlyphs">A/5B</text>
<text x="485.6" y="344.3" font-family='"Liberation Serif", "Times New Roman", serif' font-size="7.8" font-weight="bold" textLength="21.2" lengthAdjust="spacingAndGlyphs">A/10B</text>
<text x="511.1" y="343.6" font-family='"Liberation Serif", "Times New Roman", serif' font-size="7.8" font-weight="bold" textLength="21.2" lengthAdjust="spacingAndGlyphs">A/20B</text>
<text x="17" y="381.6" font-family='"Liberation Sans", Arial, sans-serif' font-size="12.5" font-weight="bold" font-style="italic">iii</text>
<line x1="44.6" y1="383" x2="44.6" y2="526.4" stroke="#111" stroke-width="1.3" />
<polygon points="44.6,378.2 42.2,385.4 47,385.4" fill="#111" />
<line x1="40" y1="399.2" x2="44.6" y2="399.2" stroke="#111" stroke-width="1.1" />
<text x="39.2" y="401.91" font-family='"Liberation Serif", "Times New Roman", serif' font-size="8.2" font-weight="bold" text-anchor="end">-1</text>
<line x1="40" y1="428.6" x2="44.6" y2="428.6" stroke="#111" stroke-width="1.1" />
<text x="39.2" y="431.31" font-family='"Liberation Serif", "Times New Roman", serif' font-size="8.2" font-weight="bold" text-anchor="end">0</text>
<line x1="40" y1="454" x2="44.6" y2="454" stroke="#111" stroke-width="1.1" />
<text x="39.2" y="456.71" font-family='"Liberation Serif", "Times New Roman", serif' font-size="8.2" font-weight="bold" text-anchor="end">1</text>
<line x1="40" y1="478" x2="44.6" y2="478" stroke="#111" stroke-width="1.1" />
<text x="39.2" y="480.71" font-family='"Liberation Serif", "Times New Roman", serif' font-size="8.2" font-weight="bold" text-anchor="end">2</text>
<line x1="40" y1="503.2" x2="44.6" y2="503.2" stroke="#111" stroke-width="1.1" />
<text x="39.2" y="505.91" font-family='"Liberation Serif", "Times New Roman", serif' font-size="8.2" font-weight="bold" text-anchor="end">3</text>
<line x1="40" y1="421.6" x2="44.6" y2="421.6" stroke="#111" stroke-width="1.1" />
<text x="39.2" y="423.78" font-family='"Liberation Serif", "Times New Roman", serif' font-size="6.6" font-weight="bold" text-anchor="end">-0.33</text>
<line x1="40" y1="487.2" x2="44.6" y2="487.2" stroke="#111" stroke-width="1.1" />
<text x="39.2" y="489.58" font-family='"Liberation Serif", "Times New Roman", serif' font-size="7.2" font-weight="bold" text-anchor="end">2.3</text>
<line x1="40" y1="495.8" x2="44.6" y2="495.8" stroke="#111" stroke-width="1.1" />
<text x="39.2" y="498.18" font-family='"Liberation Serif", "Times New Roman", serif' font-size="7.2" font-weight="bold" text-anchor="end">2.72</text>
<text x="19.2" y="458.5" font-family='"Liberation Serif", "Times New Roman", serif' font-size="10.2" font-weight="bold" text-anchor="middle" textLength="89" lengthAdjust="spacingAndGlyphs" transform="rotate(-90 19.2 458.5)">Potential/V vs NHE</text>
<line x1="45.6" y1="421.7" x2="229" y2="421.7" stroke="#55bdea" stroke-width="1.1" stroke-dasharray="3.6 2.6"/>
<line x1="45.6" y1="487.4" x2="246" y2="487.4" stroke="#55bdea" stroke-width="1.1" stroke-dasharray="3.6 2.6"/>
<line x1="45.6" y1="495.8" x2="246" y2="495.8" stroke="#55bdea" stroke-width="1.1" stroke-dasharray="3.6 2.6"/>
<text x="52" y="418.4" font-family='"Liberation Serif", "Times New Roman", serif' font-size="8.4" font-weight="bold" fill="#2b8ad6">O<tspan baseline-shift="-1.5" font-size="5.71">2</tspan>/•O<tspan baseline-shift="-1.5" font-size="5.71">2</tspan><tspan baseline-shift="3.6" font-size="5.71">−</tspan></text>
<text x="50.6" y="485" font-family='"Liberation Serif", "Times New Roman", serif' font-size="8.4" font-weight="bold" fill="#2b8ad6">•OH/OH<tspan baseline-shift="3.4" font-size="5.71">−</tspan></text>
<text x="50.6" y="509.4" font-family='"Liberation Serif", "Times New Roman", serif' font-size="8.4" font-weight="bold" fill="#2b8ad6">•OH/H<tspan baseline-shift="-1.5" font-size="5.71">2</tspan>O</text>
<text x="62.4" y="436.8" font-family='"Liberation Serif", "Times New Roman", serif' font-size="8.2" font-weight="bold" fill="#f0894a" textLength="30.4" lengthAdjust="spacingAndGlyphs">λ&gt;420nm</text>
<line x1="63.6" y1="443.6" x2="90" y2="443.6" stroke="#f7941d" stroke-width="3.3" />
<polygon points="96.4,443.6 87.6,439.3 90.2,443.6 87.6,447.9" fill="#f7941d" />
<line x1="63.6" y1="453.2" x2="90" y2="453.2" stroke="#f7941d" stroke-width="3.3" />
<polygon points="96.4,453.2 87.6,448.9 90.2,453.2 87.6,457.5" fill="#f7941d" />
<line x1="63.6" y1="462.8" x2="90" y2="462.8" stroke="#f7941d" stroke-width="3.3" />
<polygon points="96.4,462.8 87.6,458.5 90.2,462.8 87.6,467.1" fill="#f7941d" />
<line x1="116" y1="426.6" x2="155" y2="426.6" stroke="#48c33c" stroke-width="2.6" />
<line x1="116" y1="482.2" x2="155" y2="482.2" stroke="#48c33c" stroke-width="2.6" />
<line x1="135.6" y1="481" x2="135.6" y2="430.6" stroke="#48c33c" stroke-width="1.1" />
<path d="M132.9 433.6 L135.6 428.6 L138.3 433.6" fill="none" stroke="#48c33c" stroke-width="1.1"/>
<line x1="196.1" y1="496" x2="196.1" y2="437.4" stroke="#48c33c" stroke-width="1.1" />
<path d="M193.4 440.4 L196.1 435.4 L198.8 440.4" fill="none" stroke="#48c33c" stroke-width="1.1"/>
<line x1="176" y1="433.6" x2="214.6" y2="433.6" stroke="#48c33c" stroke-width="2.6" />
<line x1="177" y1="497.2" x2="216.4" y2="497.2" stroke="#48c33c" stroke-width="2.6" />
<text x="131.8" y="454.4" font-family='"Liberation Serif", "Times New Roman", serif' font-size="8.6" font-weight="bold" text-anchor="middle" textLength="41.6" lengthAdjust="spacingAndGlyphs" transform="rotate(-90 131.8 454.4)">Eg= 2.0 eV</text>
<text x="192.2" y="467" font-family='"Liberation Serif", "Times New Roman", serif' font-size="8.6" font-weight="bold" text-anchor="middle" textLength="41.6" lengthAdjust="spacingAndGlyphs" transform="rotate(-90 192.2 467)">Eg= 2.4 eV</text>
<text x="140" y="455.6" font-family='"Liberation Serif", "Times New Roman", serif' font-size="9" font-weight="bold" textLength="26.4" lengthAdjust="spacingAndGlyphs">Ag<tspan baseline-shift="-1.6" font-size="6.12">3</tspan>VO<tspan baseline-shift="-1.6" font-size="6.12">4</tspan></text>
<text x="199.6" y="467.2" font-family='"Liberation Serif", "Times New Roman", serif' font-size="9" font-weight="bold" textLength="22" lengthAdjust="spacingAndGlyphs">BiVO<tspan baseline-shift="-1.6" font-size="6.12">4</tspan></text>
<use href="#em" x="123" y="419.2"/>
<use href="#em" x="135.1" y="419.2"/>
<use href="#em" x="147" y="418.8"/>
<use href="#em" x="182.3" y="426.3"/>
<use href="#em" x="194.2" y="426.6"/>
<use href="#em" x="206" y="425.9"/>
<use href="#hp" x="123" y="490.2"/>
<use href="#hp" x="136" y="490.2"/>
<use href="#hp" x="149.1" y="490.2"/>
<use href="#hp" x="181.9" y="505.8"/>
<use href="#hp" x="194.9" y="505.8"/>
<use href="#hp" x="207.9" y="505.8"/>
<polygon points="149.03,407.81 149.5,405.71 150.16,403.96 151.01,402.39 152.04,400.99 153.24,399.76 154.6,398.72 156.1,397.85 157.73,397.17 159.47,396.69 161.31,396.43 163.23,396.37 165.21,396.55 167.23,396.96 169.28,397.62 171.32,398.54 173.35,399.72 175.34,401.18 177.28,402.93 179.13,404.97 180.88,407.31 182.51,409.97 184,412.96 181.09,414.19 187.8,419.6 189.75,410.53 186.83,411.76 185.35,408.48 183.67,405.51 181.82,402.84 179.82,400.48 177.7,398.41 175.46,396.65 173.14,395.18 170.76,394 168.33,393.12 165.89,392.52 163.45,392.22 161.04,392.19 158.68,392.45 156.39,392.99 154.21,393.8 152.15,394.89 150.25,396.25 148.54,397.87 147.04,399.75 145.8,401.87 144.82,404.21 144.17,406.59" fill="url(#gold)" />
<polygon points="203.8,398.24 203.99,402.21 204.37,405.9 204.94,409.29 205.69,412.4 206.61,415.23 207.71,417.8 208.97,420.1 210.39,422.13 211.96,423.91 213.67,425.42 215.52,426.67 217.49,427.66 219.56,428.4 221.71,428.87 223.94,429.1 226.22,429.1 228.55,428.87 230.92,428.42 233.31,427.76 235.71,426.91 238.13,425.86 239.31,428.21 244,419.8 235.08,419.81 236.26,422.15 234.14,423.21 232.04,424.1 229.97,424.79 227.94,425.3 225.95,425.61 224.02,425.72 222.15,425.64 220.35,425.34 218.61,424.84 216.94,424.11 215.34,423.15 213.82,421.95 212.37,420.49 211.01,418.76 209.75,416.74 208.61,414.43 207.59,411.81 206.71,408.88 205.97,405.64 205.4,402.07 205,398.16" fill="url(#gold)" />
<polygon points="241.15,446.53 241.61,444 242.27,441.82 243.11,439.85 244.13,438.08 245.31,436.51 246.63,435.14 248.08,433.98 249.64,433.01 251.32,432.25 253.09,431.7 254.94,431.37 256.85,431.26 258.82,431.37 260.83,431.73 262.86,432.33 264.9,433.18 266.93,434.3 268.93,435.68 270.89,437.34 272.77,439.29 274.58,441.54 272.04,443.32 280.6,449.6 279.74,437.92 277.2,439.7 275.31,437.15 273.29,434.89 271.16,432.92 268.92,431.24 266.61,429.84 264.23,428.73 261.82,427.92 259.38,427.39 256.95,427.14 254.53,427.19 252.16,427.52 249.86,428.13 247.64,429.03 245.54,430.21 243.59,431.66 241.79,433.37 240.18,435.35 238.78,437.57 237.61,440.02 236.69,442.71 236.05,445.47" fill="url(#gold)" />
<polygon points="145.07,521.59 144.55,518.65 143.74,515.8 142.68,513.2 141.37,510.84 139.84,508.73 138.11,506.89 136.21,505.31 134.16,504 131.99,502.96 129.72,502.18 127.37,501.66 124.98,501.41 122.55,501.4 120.11,501.65 117.67,502.14 115.26,502.87 112.89,503.84 110.58,505.05 108.35,506.49 106.21,508.16 104.19,510.06 102,507.84 100.2,517.8 108.6,514.54 106.42,512.32 108.3,510.7 110.27,509.31 112.29,508.13 114.35,507.16 116.44,506.42 118.54,505.88 120.62,505.56 122.67,505.45 124.67,505.54 126.61,505.84 128.46,506.34 130.22,507.03 131.87,507.91 133.4,508.99 134.8,510.26 136.05,511.73 137.15,513.4 138.09,515.28 138.84,517.38 139.39,519.71 139.73,522.41" fill="url(#gold)" />
<polygon points="188.79,517.26 187.61,519.27 186.3,521.05 184.88,522.61 183.36,523.96 181.76,525.1 180.08,526.02 178.37,526.72 176.62,527.2 174.85,527.46 173.09,527.5 171.34,527.31 169.61,526.9 167.93,526.26 166.3,525.38 164.73,524.25 163.23,522.88 161.83,521.25 160.52,519.35 159.34,517.17 158.3,514.7 157.41,511.93 156.71,508.87 159.08,508.33 153.4,502 149.91,510.39 152.28,509.86 153.28,513.21 154.47,516.25 155.84,518.99 157.36,521.42 159.02,523.55 160.81,525.38 162.71,526.92 164.69,528.15 166.74,529.1 168.84,529.75 170.95,530.12 173.06,530.21 175.16,530.03 177.21,529.6 179.2,528.91 181.11,527.99 182.93,526.83 184.63,525.46 186.21,523.87 187.65,522.07 188.93,520.08 190.01,517.94" fill="url(#gold)" />
<text x="204.2" y="398.6" font-family='"Liberation Serif", "Times New Roman", serif' font-size="10.5" font-weight="bold">O<tspan baseline-shift="-2" font-size="7.14">2</tspan></text>
<text x="247.8" y="425" font-family='"Liberation Serif", "Times New Roman", serif' font-size="10.2" font-weight="bold" textLength="17" lengthAdjust="spacingAndGlyphs">•OH</text>
<text x="229.8" y="460.2" font-family='"Liberation Serif", "Times New Roman", serif' font-size="11.4" font-weight="bold" textLength="16" lengthAdjust="spacingAndGlyphs">Dye</text>
<text x="252.8" y="459.6" font-family='"Liberation Serif", "Times New Roman", serif' font-size="8.6" font-weight="bold" textLength="63" lengthAdjust="spacingAndGlyphs">Degraded products</text>
<text x="59.6" y="531.6" font-family='"Liberation Serif", "Times New Roman", serif' font-size="8.6" font-weight="bold" textLength="62.4" lengthAdjust="spacingAndGlyphs">Degraded products</text>
<text x="136" y="532" font-family='"Liberation Serif", "Times New Roman", serif' font-size="11.4" font-weight="bold" textLength="16" lengthAdjust="spacingAndGlyphs">Dye</text>
<g clip-path="url(#cny)">
<g fill="#ff0a0a"><circle cx="364.94" cy="516.9" r="2.8"/><circle cx="365.22" cy="514.52" r="2.8"/><circle cx="365.52" cy="512.14" r="2.8"/><circle cx="365.84" cy="509.76" r="2.8"/><circle cx="366.2" cy="507.38" r="2.8"/><circle cx="366.58" cy="505.01" r="2.8"/><circle cx="367" cy="502.65" r="2.8"/><circle cx="367.46" cy="500.3" r="2.8"/><circle cx="367.96" cy="497.95" r="2.8"/><circle cx="368.9" cy="494.06" r="2.8"/><circle cx="370.01" cy="490.22" r="2.8"/><circle cx="371.26" cy="486.42" r="2.8"/><circle cx="372.54" cy="482.63" r="2.8"/><circle cx="374.26" cy="476.26" r="2.8"/><circle cx="376.62" cy="470.1" r="2.8"/><circle cx="379.04" cy="463.96" r="2.8"/><circle cx="381.52" cy="457.84" r="2.8"/><circle cx="384.46" cy="451.93" r="2.8"/><circle cx="387.65" cy="446.15" r="2.8"/><circle cx="391.06" cy="440.5" r="2.8"/><circle cx="394.26" cy="434.73" r="2.8"/><circle cx="397.62" cy="429.06" r="2.8"/><circle cx="402.15" cy="424.27" r="2.8"/><circle cx="406.33" cy="419.17" r="2.8"/><circle cx="411.16" cy="414.69" r="2.8"/><circle cx="416.68" cy="411.09" r="2.8"/><circle cx="422.67" cy="408.35" r="2.8"/><circle cx="429.14" cy="407.04" r="2.8"/><circle cx="435.7" cy="406.41" r="2.8"/><circle cx="442.65" cy="407.09" r="2.8"/><circle cx="449.27" cy="409.3" r="2.8"/><circle cx="455.29" cy="412.87" r="2.8"/><circle cx="460.72" cy="417.27" r="2.8"/><circle cx="465.56" cy="422.32" r="2.8"/><circle cx="470" cy="427.73" r="2.8"/><circle cx="474.21" cy="433.32" r="2.8"/><circle cx="478.09" cy="439.15" r="2.8"/><circle cx="481.72" cy="445.13" r="2.8"/><circle cx="484.8" cy="451.42" r="2.8"/><circle cx="487.57" cy="457.84" r="2.8"/><circle cx="490.15" cy="464.35" r="2.8"/><circle cx="493.13" cy="470.68" r="2.8"/><circle cx="494.42" cy="474.67" r="2.8"/><circle cx="495.65" cy="478.69" r="2.8"/><circle cx="496.95" cy="482.69" r="2.8"/><circle cx="498.27" cy="486.67" r="2.8"/><circle cx="498.95" cy="488.76" r="2.8"/><circle cx="499.63" cy="490.86" r="2.8"/><circle cx="500.31" cy="492.95" r="2.8"/><circle cx="501" cy="495.04" r="2.8"/><circle cx="501.74" cy="497.11" r="2.8"/><circle cx="502.54" cy="499.16" r="2.8"/><circle cx="503.43" cy="501.17" r="2.8"/><circle cx="504.5" cy="503.09" r="2.8"/><circle cx="506.05" cy="502.16" r="2.8"/><circle cx="507.03" cy="500.08" r="2.8"/><circle cx="507.89" cy="497.95" r="2.8"/><circle cx="508.75" cy="495.81" r="2.8"/><circle cx="509.64" cy="493.69" r="2.8"/><circle cx="510.57" cy="491.59" r="2.8"/><circle cx="511.53" cy="489.5" r="2.8"/><circle cx="512.51" cy="487.41" r="2.8"/><circle cx="513.48" cy="485.33" r="2.8"/><circle cx="514.45" cy="483.25" r="2.8"/><circle cx="515.41" cy="481.16" r="2.8"/><circle cx="516.37" cy="479.06" r="2.8"/><circle cx="517.32" cy="476.97" r="2.8"/><circle cx="518.76" cy="473.89" r="2.8"/><circle cx="520.24" cy="470.83" r="2.8"/><circle cx="521.77" cy="467.79" r="2.8"/><circle cx="523.33" cy="464.77" r="2.8"/><circle cx="524.93" cy="461.77" r="2.8"/><circle cx="526.59" cy="458.8" r="2.8"/><circle cx="528.25" cy="455.84" r="2.8"/></g>
<g fill="#10ee10"><path d="M370.05 513.54l3.05 5.79h-6.1z"/><path d="M370.23 511.35l3.05 5.79h-6.1z"/><path d="M370.41 509.16l3.05 5.79h-6.1z"/><path d="M370.61 506.97l3.05 5.79h-6.1z"/><path d="M370.81 504.78l3.05 5.79h-6.1z"/><path d="M371.02 502.59l3.05 5.79h-6.1z"/><path d="M371.24 500.4l3.05 5.79h-6.1z"/><path d="M371.47 498.21l3.05 5.79h-6.1z"/><path d="M371.71 496.02l3.05 5.79h-6.1z"/><path d="M372.13 492.25l3.05 5.79h-6.1z"/><path d="M372.59 488.47l3.05 5.79h-6.1z"/><path d="M373.19 484.72l3.05 5.79h-6.1z"/><path d="M374.15 481.05l3.05 5.79h-6.1z"/><path d="M376.12 474.75l3.05 5.79h-6.1z"/><path d="M378.44 468.57l3.05 5.79h-6.1z"/><path d="M381 462.49l3.05 5.79h-6.1z"/><path d="M383.81 456.52l3.05 5.79h-6.1z"/><path d="M386.69 450.58l3.05 5.79h-6.1z"/><path d="M389.84 444.8l3.05 5.79h-6.1z"/><path d="M394.14 439.8l3.05 5.79h-6.1z"/><path d="M399.11 435.47l3.05 5.79h-6.1z"/><path d="M404.92 432.38l3.05 5.79h-6.1z"/><path d="M411.4 431.34l3.05 5.79h-6.1z"/><path d="M417.6 432.77l3.05 5.79h-6.1z"/><path d="M423.09 436.03l3.05 5.79h-6.1z"/><path d="M427.9 440.24l3.05 5.79h-6.1z"/><path d="M432.1 445.06l3.05 5.79h-6.1z"/><path d="M435.55 450.44l3.05 5.79h-6.1z"/><path d="M438.52 456.11l3.05 5.79h-6.1z"/><path d="M440.96 462.03l3.05 5.79h-6.1z"/><path d="M443.34 467.97l3.05 5.79h-6.1z"/><path d="M445.62 473.95l3.05 5.79h-6.1z"/><path d="M446.96 477.72l3.05 5.79h-6.1z"/><path d="M448.19 481.52l3.05 5.79h-6.1z"/><path d="M449.44 485.32l3.05 5.79h-6.1z"/><path d="M450.72 489.11l3.05 5.79h-6.1z"/><path d="M451.42 490.99l3.05 5.79h-6.1z"/><path d="M452.15 492.85l3.05 5.79h-6.1z"/><path d="M453.01 494.65l3.05 5.79h-6.1z"/><path d="M454.26 496.2l3.05 5.79h-6.1z"/><path d="M455.86 495.53l3.05 5.79h-6.1z"/><path d="M456.91 493.71l3.05 5.79h-6.1z"/><path d="M457.82 491.82l3.05 5.79h-6.1z"/><path d="M458.75 489.94l3.05 5.79h-6.1z"/><path d="M459.77 488.1l3.05 5.79h-6.1z"/><path d="M460.85 486.3l3.05 5.79h-6.1z"/><path d="M461.94 484.51l3.05 5.79h-6.1z"/><path d="M463.48 481.93l3.05 5.79h-6.1z"/><path d="M465.02 479.36l3.05 5.79h-6.1z"/><path d="M466.56 476.78l3.05 5.79h-6.1z"/><path d="M468.09 474.21l3.05 5.79h-6.1z"/></g>
<g fill="#000"><rect x="373.69" y="490.56" width="4.4" height="4.4"/><rect x="374.16" y="489.8" width="4.4" height="4.4"/><rect x="374.65" y="489.04" width="4.4" height="4.4"/><rect x="375.23" y="488.36" width="4.4" height="4.4"/><rect x="375.96" y="487.83" width="4.4" height="4.4"/><rect x="376.77" y="487.44" width="4.4" height="4.4"/><rect x="377.63" y="487.18" width="4.4" height="4.4"/><rect x="378.52" y="487.07" width="4.4" height="4.4"/><rect x="379.42" y="487.14" width="4.4" height="4.4"/><rect x="380.27" y="487.41" width="4.4" height="4.4"/><rect x="381.05" y="487.86" width="4.4" height="4.4"/><rect x="381.75" y="488.42" width="4.4" height="4.4"/><rect x="382.36" y="489.09" width="4.4" height="4.4"/><rect x="382.88" y="489.82" width="4.4" height="4.4"/><rect x="383.33" y="490.6" width="4.4" height="4.4"/><rect x="383.74" y="491.4" width="4.4" height="4.4"/><rect x="384.12" y="492.21" width="4.4" height="4.4"/><rect x="384.49" y="493.03" width="4.4" height="4.4"/><rect x="384.84" y="493.86" width="4.4" height="4.4"/><rect x="385.17" y="494.7" width="4.4" height="4.4"/><rect x="385.48" y="495.54" width="4.4" height="4.4"/><rect x="385.79" y="496.39" width="4.4" height="4.4"/><rect x="386.08" y="497.24" width="4.4" height="4.4"/><rect x="386.36" y="498.1" width="4.4" height="4.4"/><rect x="386.63" y="498.96" width="4.4" height="4.4"/><rect x="386.9" y="499.82" width="4.4" height="4.4"/><rect x="387.15" y="500.68" width="4.4" height="4.4"/><rect x="387.41" y="501.54" width="4.4" height="4.4"/><rect x="387.67" y="502.41" width="4.4" height="4.4"/><rect x="387.93" y="503.27" width="4.4" height="4.4"/><rect x="388.19" y="504.13" width="4.4" height="4.4"/><rect x="388.45" y="504.99" width="4.4" height="4.4"/><rect x="388.71" y="505.85" width="4.4" height="4.4"/><rect x="388.98" y="506.71" width="4.4" height="4.4"/><rect x="389.26" y="507.56" width="4.4" height="4.4"/><rect x="389.57" y="508.41" width="4.4" height="4.4"/><rect x="389.94" y="509.23" width="4.4" height="4.4"/><rect x="390.39" y="510.01" width="4.4" height="4.4"/><rect x="390.94" y="510.71" width="4.4" height="4.4"/><rect x="391.72" y="510.78" width="4.4" height="4.4"/><rect x="392.19" y="510.01" width="4.4" height="4.4"/><rect x="392.57" y="509.2" width="4.4" height="4.4"/><rect x="392.92" y="508.37" width="4.4" height="4.4"/><rect x="393.25" y="507.53" width="4.4" height="4.4"/><rect x="393.57" y="506.69" width="4.4" height="4.4"/><rect x="393.88" y="505.85" width="4.4" height="4.4"/><rect x="394.21" y="505.01" width="4.4" height="4.4"/><rect x="394.54" y="504.17" width="4.4" height="4.4"/><rect x="394.88" y="503.34" width="4.4" height="4.4"/><rect x="395.21" y="502.5" width="4.4" height="4.4"/><rect x="395.55" y="501.67" width="4.4" height="4.4"/><rect x="395.9" y="500.84" width="4.4" height="4.4"/><rect x="396.26" y="500.01" width="4.4" height="4.4"/><rect x="396.63" y="499.19" width="4.4" height="4.4"/><rect x="397.02" y="498.38" width="4.4" height="4.4"/><rect x="397.43" y="497.58" width="4.4" height="4.4"/><rect x="397.86" y="496.79" width="4.4" height="4.4"/><rect x="398.29" y="496" width="4.4" height="4.4"/><rect x="398.74" y="495.22" width="4.4" height="4.4"/><rect x="399.18" y="494.44" width="4.4" height="4.4"/><rect x="399.63" y="493.66" width="4.4" height="4.4"/></g>
</g>
<path d="M359 384.9 H538.1 V516.9" fill="none" stroke="#1a1a1a" stroke-width="1.05" />
<path d="M359 384.4 V516.9 H538.6" fill="none" stroke="#000" stroke-width="1.6" />
<line x1="355.8" y1="516.9" x2="359" y2="516.9" stroke="#000" stroke-width="1.1" />
<text x="354.6" y="519.7" font-family='"Liberation Serif", "Times New Roman", serif' font-size="8.2" font-weight="bold" text-anchor="end">0</text>
<line x1="355.8" y1="498.04" x2="359" y2="498.04" stroke="#000" stroke-width="1.1" />
<text x="354.6" y="500.84" font-family='"Liberation Serif", "Times New Roman", serif' font-size="8.2" font-weight="bold" text-anchor="end">100</text>
<line x1="355.8" y1="479.19" x2="359" y2="479.19" stroke="#000" stroke-width="1.1" />
<text x="354.6" y="481.99" font-family='"Liberation Serif", "Times New Roman", serif' font-size="8.2" font-weight="bold" text-anchor="end">200</text>
<line x1="355.8" y1="460.33" x2="359" y2="460.33" stroke="#000" stroke-width="1.1" />
<text x="354.6" y="463.13" font-family='"Liberation Serif", "Times New Roman", serif' font-size="8.2" font-weight="bold" text-anchor="end">300</text>
<line x1="355.8" y1="441.47" x2="359" y2="441.47" stroke="#000" stroke-width="1.1" />
<text x="354.6" y="444.27" font-family='"Liberation Serif", "Times New Roman", serif' font-size="8.2" font-weight="bold" text-anchor="end">400</text>
<line x1="355.8" y1="422.62" x2="359" y2="422.62" stroke="#000" stroke-width="1.1" />
<text x="354.6" y="425.42" font-family='"Liberation Serif", "Times New Roman", serif' font-size="8.2" font-weight="bold" text-anchor="end">500</text>
<line x1="355.8" y1="403.76" x2="359" y2="403.76" stroke="#000" stroke-width="1.1" />
<text x="354.6" y="406.56" font-family='"Liberation Serif", "Times New Roman", serif' font-size="8.2" font-weight="bold" text-anchor="end">600</text>
<line x1="355.8" y1="384.9" x2="359" y2="384.9" stroke="#000" stroke-width="1.1" />
<text x="354.6" y="387.7" font-family='"Liberation Serif", "Times New Roman", serif' font-size="8.2" font-weight="bold" text-anchor="end">700</text>
<line x1="357.2" y1="507.47" x2="359" y2="507.47" stroke="#000" stroke-width="0.9" />
<line x1="357.2" y1="488.61" x2="359" y2="488.61" stroke="#000" stroke-width="0.9" />
<line x1="357.2" y1="469.76" x2="359" y2="469.76" stroke="#000" stroke-width="0.9" />
<line x1="357.2" y1="450.9" x2="359" y2="450.9" stroke="#000" stroke-width="0.9" />
<line x1="357.2" y1="432.04" x2="359" y2="432.04" stroke="#000" stroke-width="0.9" />
<line x1="357.2" y1="413.19" x2="359" y2="413.19" stroke="#000" stroke-width="0.9" />
<line x1="357.2" y1="394.33" x2="359" y2="394.33" stroke="#000" stroke-width="0.9" />
<line x1="362.7" y1="516.9" x2="362.7" y2="520.1" stroke="#000" stroke-width="1.1" />
<text x="362.7" y="528.9" font-family='"Liberation Serif", "Times New Roman", serif' font-size="8.2" font-weight="bold" text-anchor="middle">0</text>
<line x1="402.67" y1="516.9" x2="402.67" y2="520.1" stroke="#000" stroke-width="1.1" />
<text x="402.67" y="528.9" font-family='"Liberation Serif", "Times New Roman", serif' font-size="8.2" font-weight="bold" text-anchor="middle">500</text>
<line x1="442.64" y1="516.9" x2="442.64" y2="520.1" stroke="#000" stroke-width="1.1" />
<text x="442.64" y="528.9" font-family='"Liberation Serif", "Times New Roman", serif' font-size="8.2" font-weight="bold" text-anchor="middle">1000</text>
<line x1="482.61" y1="516.9" x2="482.61" y2="520.1" stroke="#000" stroke-width="1.1" />
<text x="482.61" y="528.9" font-family='"Liberation Serif", "Times New Roman", serif' font-size="8.2" font-weight="bold" text-anchor="middle">1500</text>
<line x1="522.58" y1="516.9" x2="522.58" y2="520.1" stroke="#000" stroke-width="1.1" />
<text x="522.58" y="528.9" font-family='"Liberation Serif", "Times New Roman", serif' font-size="8.2" font-weight="bold" text-anchor="middle">2000</text>
<line x1="382.69" y1="516.9" x2="382.69" y2="518.7" stroke="#000" stroke-width="0.9" />
<line x1="422.65" y1="516.9" x2="422.65" y2="518.7" stroke="#000" stroke-width="0.9" />
<line x1="462.62" y1="516.9" x2="462.62" y2="518.7" stroke="#000" stroke-width="0.9" />
<line x1="502.59" y1="516.9" x2="502.59" y2="518.7" stroke="#000" stroke-width="0.9" />
<text x="369.8" y="403" font-family='"Liberation Sans", Arial, sans-serif' font-size="13" font-weight="bold" font-style="italic">iv</text>
<text x="334.4" y="452.4" font-family='"Liberation Serif", "Times New Roman", serif' font-size="11.6" font-weight="bold" text-anchor="middle" textLength="49.6" lengthAdjust="spacingAndGlyphs" transform="rotate(-90 334.4 452.4)">-Z'' (ohm)</text>
<text x="426.2" y="541.4" font-family='"Liberation Serif", "Times New Roman", serif' font-size="12.4" font-weight="bold" textLength="42.4" lengthAdjust="spacingAndGlyphs">Z' (ohm)</text>
<circle cx="486" cy="394.3" r="2.85" fill="#ff0a0a"/>
<polygon points="486.2,407.2 483,413.2 489.4,413.2" fill="#10ee10" />
<rect x="483.8" y="425.3" width="4.6" height="4.6" fill="#000" />
<text x="497" y="396.9" font-family='"Liberation Serif", "Times New Roman", serif' font-size="11.6" font-weight="bold" textLength="31.6" lengthAdjust="spacingAndGlyphs">BiVO<tspan baseline-shift="-2.6" font-size="9.86">4</tspan></text>
<text x="497" y="413.4" font-family='"Liberation Serif", "Times New Roman", serif' font-size="11.6" font-weight="bold" textLength="39.6" lengthAdjust="spacingAndGlyphs">Ag<tspan baseline-shift="-2.6" font-size="9.86">3</tspan>VO<tspan baseline-shift="-2.6" font-size="9.86">4</tspan></text>
<text x="497" y="430.3" font-family='"Liberation Serif", "Times New Roman", serif' font-size="11.6" font-weight="bold" textLength="27.6" lengthAdjust="spacingAndGlyphs">A/10B</text>
</svg>
</body></html>
